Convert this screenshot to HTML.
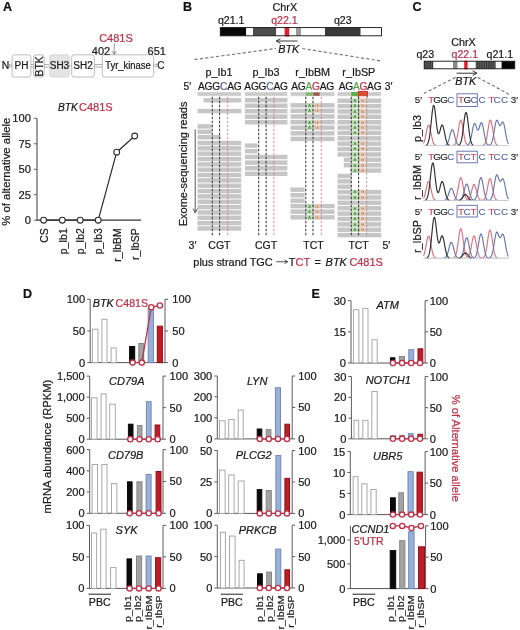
<!DOCTYPE html>
<html><head><meta charset="utf-8"><style>
html,body{margin:0;padding:0;background:#fff;}
svg{display:block;font-family:"Liberation Sans", Arial, sans-serif;}
</style></head><body>
<svg width="520" height="630" viewBox="0 0 520 630">
<rect width="520" height="630" fill="#fff"/>
<text x="3.10" y="11.25" font-size="12.5" text-anchor="start" fill="#111" stroke="#111" stroke-width="0.22" font-weight="bold">A</text>
<text x="1.70" y="69.35" font-size="10.4" text-anchor="start" fill="#1a1a1a" stroke="#1a1a1a" stroke-width="0.22">N</text>
<rect x="9.30" y="64.20" width="2.30" height="2.60" fill="#fff" stroke="#999" stroke-width="0.7" rx="0"/>
<rect x="12.10" y="54.80" width="18.80" height="22.20" fill="#fff" stroke="#ababab" stroke-width="0.8" rx="2.5"/>
<text x="21.50" y="69.46" font-size="10.0" text-anchor="middle" fill="#1a1a1a" stroke="#1a1a1a" stroke-width="0.22">PH</text>
<line x1="30.90" y1="64.50" x2="33.50" y2="64.50" stroke="#999" stroke-width="0.8"/>
<line x1="30.90" y1="67.00" x2="33.50" y2="67.00" stroke="#999" stroke-width="0.8"/>
<rect x="33.50" y="54.80" width="10.70" height="22.20" fill="#fff" stroke="#ababab" stroke-width="0.8" rx="2.5"/>
<text x="42.60" y="66.30" font-size="10.4" text-anchor="middle" fill="#1a1a1a" stroke="#1a1a1a" stroke-width="0.22" transform="rotate(-90 42.60 66.30)">BTK</text>
<line x1="44.20" y1="64.50" x2="49.60" y2="64.50" stroke="#999" stroke-width="0.8"/>
<line x1="44.20" y1="67.00" x2="49.60" y2="67.00" stroke="#999" stroke-width="0.8"/>
<rect x="49.60" y="54.80" width="19.70" height="22.20" fill="#e4e4e4" stroke="#d2d2d2" stroke-width="0.8" rx="2.5"/>
<text x="59.45" y="69.46" font-size="10.0" text-anchor="middle" fill="#1a1a1a" stroke="#1a1a1a" stroke-width="0.22">SH3</text>
<line x1="69.30" y1="65.80" x2="71.70" y2="65.80" stroke="#999" stroke-width="0.8"/>
<rect x="71.70" y="54.80" width="22.60" height="22.20" fill="#fff" stroke="#ababab" stroke-width="0.8" rx="2.5"/>
<text x="83.00" y="69.46" font-size="10.0" text-anchor="middle" fill="#1a1a1a" stroke="#1a1a1a" stroke-width="0.22">SH2</text>
<line x1="94.30" y1="64.50" x2="102.30" y2="64.50" stroke="#999" stroke-width="0.8"/>
<line x1="94.30" y1="67.00" x2="102.30" y2="67.00" stroke="#999" stroke-width="0.8"/>
<rect x="102.30" y="54.80" width="51.40" height="22.20" fill="#fff" stroke="#ababab" stroke-width="0.8" rx="2.5"/>
<text x="128.00" y="69.46" font-size="10.0" text-anchor="middle" fill="#1a1a1a" stroke="#1a1a1a" stroke-width="0.22" textLength="45.6" lengthAdjust="spacingAndGlyphs">Tyr_kinase</text>
<rect x="153.70" y="64.20" width="2.60" height="2.60" fill="#fff" stroke="#999" stroke-width="0.7" rx="0"/>
<text x="157.30" y="69.26" font-size="10" text-anchor="start" fill="#1a1a1a" stroke="#1a1a1a" stroke-width="0.22">C</text>
<text x="101.00" y="54.68" font-size="11" text-anchor="middle" fill="#1a1a1a" stroke="#1a1a1a" stroke-width="0.22">402</text>
<text x="156.80" y="54.68" font-size="11" text-anchor="middle" fill="#1a1a1a" stroke="#1a1a1a" stroke-width="0.22">651</text>
<text x="116.00" y="42.08" font-size="11" text-anchor="middle" fill="#c02f47" stroke="#c02f47" stroke-width="0.22">C481S</text>
<line x1="114.20" y1="43.50" x2="114.20" y2="54.20" stroke="#777" stroke-width="0.8"/>
<path d="M112.2 51.2 L114.2 54.6 L116.2 51.2" fill="none" stroke="#777" stroke-width="0.8"/>
<text x="58.00" y="111.30" font-size="10.2" text-anchor="start" fill="#1a1a1a" stroke="#1a1a1a" stroke-width="0.22" font-style="italic">BTK</text>
<text x="79.00" y="111.08" font-size="11" text-anchor="start" fill="#c02f47" stroke="#c02f47" stroke-width="0.22">C481S</text>
<line x1="37.00" y1="118.30" x2="37.00" y2="220.20" stroke="#5c5c5c" stroke-width="1.2"/>
<line x1="34.00" y1="220.20" x2="37.00" y2="220.20" stroke="#5c5c5c" stroke-width="1"/>
<text x="31.00" y="224.32" font-size="11.2" text-anchor="end" fill="#1a1a1a" stroke="#1a1a1a" stroke-width="0.22">0</text>
<line x1="34.00" y1="194.72" x2="37.00" y2="194.72" stroke="#5c5c5c" stroke-width="1"/>
<text x="31.00" y="198.84" font-size="11.2" text-anchor="end" fill="#1a1a1a" stroke="#1a1a1a" stroke-width="0.22">25</text>
<line x1="34.00" y1="169.25" x2="37.00" y2="169.25" stroke="#5c5c5c" stroke-width="1"/>
<text x="31.00" y="173.37" font-size="11.2" text-anchor="end" fill="#1a1a1a" stroke="#1a1a1a" stroke-width="0.22">50</text>
<line x1="34.00" y1="143.77" x2="37.00" y2="143.77" stroke="#5c5c5c" stroke-width="1"/>
<text x="31.00" y="147.89" font-size="11.2" text-anchor="end" fill="#1a1a1a" stroke="#1a1a1a" stroke-width="0.22">75</text>
<line x1="34.00" y1="118.30" x2="37.00" y2="118.30" stroke="#5c5c5c" stroke-width="1"/>
<text x="31.00" y="122.42" font-size="11.2" text-anchor="end" fill="#1a1a1a" stroke="#1a1a1a" stroke-width="0.22">100</text>
<line x1="37.00" y1="220.20" x2="141.00" y2="220.20" stroke="#333" stroke-width="1.2"/>
<polyline points="43.6,220.2 62.3,220.2 80.2,220.2 98.2,220.2 116.7,152.2 134.7,136.0" fill="none" stroke="#2e2e2e" stroke-width="1.2"/>
<circle cx="43.60" cy="220.20" r="2.9" fill="#fff" stroke="#2e2e2e" stroke-width="1.1"/>
<circle cx="62.30" cy="220.20" r="2.9" fill="#fff" stroke="#2e2e2e" stroke-width="1.1"/>
<circle cx="80.20" cy="220.20" r="2.9" fill="#fff" stroke="#2e2e2e" stroke-width="1.1"/>
<circle cx="98.20" cy="220.20" r="2.9" fill="#fff" stroke="#2e2e2e" stroke-width="1.1"/>
<circle cx="116.70" cy="152.20" r="2.9" fill="#fff" stroke="#2e2e2e" stroke-width="1.1"/>
<circle cx="134.70" cy="136.00" r="2.9" fill="#fff" stroke="#2e2e2e" stroke-width="1.1"/>
<text x="47.90" y="228.30" font-size="10.4" text-anchor="end" fill="#1a1a1a" stroke="#1a1a1a" stroke-width="0.22" transform="rotate(-90 47.90 228.30)">CS</text>
<text x="66.60" y="228.30" font-size="10.4" text-anchor="end" fill="#1a1a1a" stroke="#1a1a1a" stroke-width="0.22" transform="rotate(-90 66.60 228.30)">p_Ib1</text>
<text x="84.50" y="228.30" font-size="10.4" text-anchor="end" fill="#1a1a1a" stroke="#1a1a1a" stroke-width="0.22" transform="rotate(-90 84.50 228.30)">p_Ib2</text>
<text x="102.50" y="228.30" font-size="10.4" text-anchor="end" fill="#1a1a1a" stroke="#1a1a1a" stroke-width="0.22" transform="rotate(-90 102.50 228.30)">p_Ib3</text>
<text x="121.00" y="228.30" font-size="10.4" text-anchor="end" fill="#1a1a1a" stroke="#1a1a1a" stroke-width="0.22" transform="rotate(-90 121.00 228.30)">r_IbBM</text>
<text x="139.00" y="228.30" font-size="10.4" text-anchor="end" fill="#1a1a1a" stroke="#1a1a1a" stroke-width="0.22" transform="rotate(-90 139.00 228.30)">r_IbSP</text>
<text x="9.90" y="171.70" font-size="11.4" text-anchor="middle" fill="#1a1a1a" stroke="#1a1a1a" stroke-width="0.22" transform="rotate(-90 9.90 171.70)">% of alternative allele</text>
<text x="23.00" y="297.65" font-size="12.5" text-anchor="start" fill="#111" stroke="#111" stroke-width="0.22" font-weight="bold">D</text>
<text x="311.50" y="297.55" font-size="12.5" text-anchor="start" fill="#111" stroke="#111" stroke-width="0.22" font-weight="bold">E</text>
<line x1="90.20" y1="299.30" x2="90.20" y2="362.60" stroke="#5c5c5c" stroke-width="1"/>
<line x1="87.20" y1="299.30" x2="90.20" y2="299.30" stroke="#5c5c5c" stroke-width="1"/>
<text x="85.20" y="303.30" font-size="11.1" text-anchor="end" fill="#1a1a1a" stroke="#1a1a1a" stroke-width="0.22">100</text>
<line x1="87.20" y1="330.95" x2="90.20" y2="330.95" stroke="#5c5c5c" stroke-width="1"/>
<text x="85.20" y="334.95" font-size="11.1" text-anchor="end" fill="#1a1a1a" stroke="#1a1a1a" stroke-width="0.22">50</text>
<line x1="87.20" y1="362.60" x2="90.20" y2="362.60" stroke="#5c5c5c" stroke-width="1"/>
<text x="85.20" y="366.60" font-size="11.1" text-anchor="end" fill="#1a1a1a" stroke="#1a1a1a" stroke-width="0.22">0</text>
<line x1="165.00" y1="299.30" x2="165.00" y2="362.60" stroke="#5c5c5c" stroke-width="1"/>
<line x1="165.00" y1="299.30" x2="168.00" y2="299.30" stroke="#5c5c5c" stroke-width="1"/>
<text x="172.30" y="303.30" font-size="11.1" text-anchor="start" fill="#1a1a1a" stroke="#1a1a1a" stroke-width="0.22">100</text>
<line x1="165.00" y1="330.95" x2="168.00" y2="330.95" stroke="#5c5c5c" stroke-width="1"/>
<text x="172.30" y="334.95" font-size="11.1" text-anchor="start" fill="#1a1a1a" stroke="#1a1a1a" stroke-width="0.22">50</text>
<line x1="165.00" y1="362.60" x2="168.00" y2="362.60" stroke="#5c5c5c" stroke-width="1"/>
<text x="172.30" y="366.60" font-size="11.1" text-anchor="start" fill="#1a1a1a" stroke="#1a1a1a" stroke-width="0.22">0</text>
<line x1="90.20" y1="362.60" x2="165.00" y2="362.60" stroke="#555" stroke-width="1"/>
<rect x="92.40" y="329.20" width="5.60" height="33.40" fill="#fff" stroke="#a8a8a8" stroke-width="1" rx="0"/>
<rect x="101.90" y="319.30" width="5.10" height="43.30" fill="#fff" stroke="#a8a8a8" stroke-width="1" rx="0"/>
<rect x="111.10" y="347.90" width="5.10" height="14.70" fill="#fff" stroke="#a8a8a8" stroke-width="1" rx="0"/>
<rect x="129.60" y="346.50" width="5.10" height="16.10" fill="#0a0a0a" stroke="#0a0a0a" stroke-width="1" rx="0"/>
<rect x="138.80" y="343.50" width="4.90" height="19.10" fill="#a3a3a3" stroke="#858585" stroke-width="1" rx="0"/>
<rect x="148.20" y="308.40" width="5.20" height="54.20" fill="#98b1da" stroke="#7189b9" stroke-width="1" rx="0"/>
<rect x="157.30" y="326.20" width="5.10" height="36.40" fill="#c01b26" stroke="#8f0f18" stroke-width="1" rx="0"/>
<polyline points="132.6,362.6 141.8,362.6 151.3,307.2 159.9,305.5" fill="none" stroke="#c02f47" stroke-width="1.3"/>
<circle cx="132.60" cy="362.60" r="2.6" fill="#fff" stroke="#c02f47" stroke-width="1.35"/>
<circle cx="141.80" cy="362.60" r="2.6" fill="#fff" stroke="#c02f47" stroke-width="1.35"/>
<circle cx="151.30" cy="307.20" r="2.6" fill="#fff" stroke="#c02f47" stroke-width="1.35"/>
<circle cx="159.90" cy="305.50" r="2.6" fill="#fff" stroke="#c02f47" stroke-width="1.35"/>
<text x="92.80" y="307.33" font-size="10.8" text-anchor="start" fill="#1a1a1a" stroke="#1a1a1a" stroke-width="0.22" font-style="italic">BTK</text>
<text x="115.60" y="307.19" font-size="10.6" text-anchor="start" fill="#c02f47" stroke="#c02f47" stroke-width="0.22">C481S</text>
<line x1="89.70" y1="376.10" x2="89.70" y2="439.20" stroke="#5c5c5c" stroke-width="1"/>
<line x1="86.70" y1="376.10" x2="89.70" y2="376.10" stroke="#5c5c5c" stroke-width="1"/>
<text x="84.70" y="380.10" font-size="11.1" text-anchor="end" fill="#1a1a1a" stroke="#1a1a1a" stroke-width="0.22">1,500</text>
<line x1="86.70" y1="397.10" x2="89.70" y2="397.10" stroke="#5c5c5c" stroke-width="1"/>
<text x="84.70" y="401.10" font-size="11.1" text-anchor="end" fill="#1a1a1a" stroke="#1a1a1a" stroke-width="0.22">1,000</text>
<line x1="86.70" y1="418.20" x2="89.70" y2="418.20" stroke="#5c5c5c" stroke-width="1"/>
<text x="84.70" y="422.20" font-size="11.1" text-anchor="end" fill="#1a1a1a" stroke="#1a1a1a" stroke-width="0.22">500</text>
<line x1="86.70" y1="439.20" x2="89.70" y2="439.20" stroke="#5c5c5c" stroke-width="1"/>
<text x="84.70" y="443.20" font-size="11.1" text-anchor="end" fill="#1a1a1a" stroke="#1a1a1a" stroke-width="0.22">0</text>
<line x1="163.00" y1="376.10" x2="163.00" y2="439.20" stroke="#5c5c5c" stroke-width="1"/>
<line x1="163.00" y1="376.10" x2="166.00" y2="376.10" stroke="#5c5c5c" stroke-width="1"/>
<text x="169.60" y="380.10" font-size="11.1" text-anchor="start" fill="#1a1a1a" stroke="#1a1a1a" stroke-width="0.22">100</text>
<line x1="163.00" y1="407.65" x2="166.00" y2="407.65" stroke="#5c5c5c" stroke-width="1"/>
<text x="169.60" y="411.65" font-size="11.1" text-anchor="start" fill="#1a1a1a" stroke="#1a1a1a" stroke-width="0.22">50</text>
<line x1="163.00" y1="439.20" x2="166.00" y2="439.20" stroke="#5c5c5c" stroke-width="1"/>
<text x="169.60" y="443.20" font-size="11.1" text-anchor="start" fill="#1a1a1a" stroke="#1a1a1a" stroke-width="0.22">0</text>
<line x1="89.70" y1="439.20" x2="163.00" y2="439.20" stroke="#555" stroke-width="1"/>
<rect x="91.50" y="397.80" width="5.50" height="41.40" fill="#fff" stroke="#a8a8a8" stroke-width="1" rx="0"/>
<rect x="101.10" y="393.90" width="5.00" height="45.30" fill="#fff" stroke="#a8a8a8" stroke-width="1" rx="0"/>
<rect x="109.70" y="404.20" width="5.60" height="35.00" fill="#fff" stroke="#a8a8a8" stroke-width="1" rx="0"/>
<rect x="128.40" y="424.20" width="4.60" height="15.00" fill="#0a0a0a" stroke="#0a0a0a" stroke-width="1" rx="0"/>
<rect x="137.40" y="425.50" width="4.60" height="13.70" fill="#a3a3a3" stroke="#858585" stroke-width="1" rx="0"/>
<rect x="146.40" y="401.70" width="4.70" height="37.50" fill="#98b1da" stroke="#7189b9" stroke-width="1" rx="0"/>
<rect x="155.10" y="425.00" width="4.70" height="14.20" fill="#c01b26" stroke="#8f0f18" stroke-width="1" rx="0"/>
<polyline points="130.3,439.2 139.5,439.2 148.7,439.2 157.7,439.2" fill="none" stroke="#c02f47" stroke-width="1.3"/>
<circle cx="130.30" cy="439.20" r="2.6" fill="#fff" stroke="#c02f47" stroke-width="1.35"/>
<circle cx="139.50" cy="439.20" r="2.6" fill="#fff" stroke="#c02f47" stroke-width="1.35"/>
<circle cx="148.70" cy="439.20" r="2.6" fill="#fff" stroke="#c02f47" stroke-width="1.35"/>
<circle cx="157.70" cy="439.20" r="2.6" fill="#fff" stroke="#c02f47" stroke-width="1.35"/>
<text x="126.80" y="384.78" font-size="11" text-anchor="middle" fill="#1a1a1a" stroke="#1a1a1a" stroke-width="0.22" font-style="italic">CD79A</text>
<line x1="89.70" y1="449.60" x2="89.70" y2="513.30" stroke="#5c5c5c" stroke-width="1"/>
<line x1="86.70" y1="449.60" x2="89.70" y2="449.60" stroke="#5c5c5c" stroke-width="1"/>
<text x="84.70" y="453.60" font-size="11.1" text-anchor="end" fill="#1a1a1a" stroke="#1a1a1a" stroke-width="0.22">600</text>
<line x1="86.70" y1="470.90" x2="89.70" y2="470.90" stroke="#5c5c5c" stroke-width="1"/>
<text x="84.70" y="474.90" font-size="11.1" text-anchor="end" fill="#1a1a1a" stroke="#1a1a1a" stroke-width="0.22">400</text>
<line x1="86.70" y1="491.90" x2="89.70" y2="491.90" stroke="#5c5c5c" stroke-width="1"/>
<text x="84.70" y="495.90" font-size="11.1" text-anchor="end" fill="#1a1a1a" stroke="#1a1a1a" stroke-width="0.22">200</text>
<line x1="86.70" y1="513.30" x2="89.70" y2="513.30" stroke="#5c5c5c" stroke-width="1"/>
<text x="84.70" y="517.30" font-size="11.1" text-anchor="end" fill="#1a1a1a" stroke="#1a1a1a" stroke-width="0.22">0</text>
<line x1="163.00" y1="449.60" x2="163.00" y2="513.30" stroke="#5c5c5c" stroke-width="1"/>
<line x1="163.00" y1="449.60" x2="166.00" y2="449.60" stroke="#5c5c5c" stroke-width="1"/>
<text x="169.60" y="453.60" font-size="11.1" text-anchor="start" fill="#1a1a1a" stroke="#1a1a1a" stroke-width="0.22">100</text>
<line x1="163.00" y1="481.45" x2="166.00" y2="481.45" stroke="#5c5c5c" stroke-width="1"/>
<text x="169.60" y="485.45" font-size="11.1" text-anchor="start" fill="#1a1a1a" stroke="#1a1a1a" stroke-width="0.22">50</text>
<line x1="163.00" y1="513.30" x2="166.00" y2="513.30" stroke="#5c5c5c" stroke-width="1"/>
<text x="169.60" y="517.30" font-size="11.1" text-anchor="start" fill="#1a1a1a" stroke="#1a1a1a" stroke-width="0.22">0</text>
<line x1="89.70" y1="513.30" x2="163.00" y2="513.30" stroke="#555" stroke-width="1"/>
<rect x="92.10" y="464.50" width="5.40" height="48.80" fill="#fff" stroke="#a8a8a8" stroke-width="1" rx="0"/>
<rect x="101.90" y="464.50" width="5.10" height="48.80" fill="#fff" stroke="#a8a8a8" stroke-width="1" rx="0"/>
<rect x="111.50" y="483.60" width="5.40" height="29.70" fill="#fff" stroke="#a8a8a8" stroke-width="1" rx="0"/>
<rect x="127.50" y="481.80" width="4.60" height="31.50" fill="#0a0a0a" stroke="#0a0a0a" stroke-width="1" rx="0"/>
<rect x="136.90" y="481.80" width="5.10" height="31.50" fill="#a3a3a3" stroke="#858585" stroke-width="1" rx="0"/>
<rect x="146.10" y="474.50" width="5.00" height="38.80" fill="#98b1da" stroke="#7189b9" stroke-width="1" rx="0"/>
<rect x="156.10" y="471.50" width="4.90" height="41.80" fill="#c01b26" stroke="#8f0f18" stroke-width="1" rx="0"/>
<polyline points="129.7,513.3 139.0,513.3 148.7,513.3 158.6,513.3" fill="none" stroke="#c02f47" stroke-width="1.3"/>
<circle cx="129.70" cy="513.30" r="2.6" fill="#fff" stroke="#c02f47" stroke-width="1.35"/>
<circle cx="139.00" cy="513.30" r="2.6" fill="#fff" stroke="#c02f47" stroke-width="1.35"/>
<circle cx="148.70" cy="513.30" r="2.6" fill="#fff" stroke="#c02f47" stroke-width="1.35"/>
<circle cx="158.60" cy="513.30" r="2.6" fill="#fff" stroke="#c02f47" stroke-width="1.35"/>
<text x="125.70" y="459.48" font-size="11" text-anchor="middle" fill="#1a1a1a" stroke="#1a1a1a" stroke-width="0.22" font-style="italic">CD79B</text>
<line x1="89.50" y1="525.40" x2="89.50" y2="588.40" stroke="#5c5c5c" stroke-width="1"/>
<line x1="86.50" y1="525.40" x2="89.50" y2="525.40" stroke="#5c5c5c" stroke-width="1"/>
<text x="84.50" y="529.40" font-size="11.1" text-anchor="end" fill="#1a1a1a" stroke="#1a1a1a" stroke-width="0.22">100</text>
<line x1="86.50" y1="556.90" x2="89.50" y2="556.90" stroke="#5c5c5c" stroke-width="1"/>
<text x="84.50" y="560.90" font-size="11.1" text-anchor="end" fill="#1a1a1a" stroke="#1a1a1a" stroke-width="0.22">50</text>
<line x1="86.50" y1="588.40" x2="89.50" y2="588.40" stroke="#5c5c5c" stroke-width="1"/>
<text x="84.50" y="592.40" font-size="11.1" text-anchor="end" fill="#1a1a1a" stroke="#1a1a1a" stroke-width="0.22">0</text>
<line x1="163.00" y1="525.40" x2="163.00" y2="588.40" stroke="#5c5c5c" stroke-width="1"/>
<line x1="163.00" y1="525.40" x2="166.00" y2="525.40" stroke="#5c5c5c" stroke-width="1"/>
<text x="169.60" y="529.40" font-size="11.1" text-anchor="start" fill="#1a1a1a" stroke="#1a1a1a" stroke-width="0.22">100</text>
<line x1="163.00" y1="556.90" x2="166.00" y2="556.90" stroke="#5c5c5c" stroke-width="1"/>
<text x="169.60" y="560.90" font-size="11.1" text-anchor="start" fill="#1a1a1a" stroke="#1a1a1a" stroke-width="0.22">50</text>
<line x1="163.00" y1="588.40" x2="166.00" y2="588.40" stroke="#5c5c5c" stroke-width="1"/>
<text x="169.60" y="592.40" font-size="11.1" text-anchor="start" fill="#1a1a1a" stroke="#1a1a1a" stroke-width="0.22">0</text>
<line x1="89.50" y1="588.40" x2="163.00" y2="588.40" stroke="#555" stroke-width="1"/>
<rect x="91.50" y="533.00" width="5.10" height="55.40" fill="#fff" stroke="#a8a8a8" stroke-width="1" rx="0"/>
<rect x="100.70" y="529.20" width="5.40" height="59.20" fill="#fff" stroke="#a8a8a8" stroke-width="1" rx="0"/>
<rect x="110.60" y="567.60" width="5.40" height="20.80" fill="#fff" stroke="#a8a8a8" stroke-width="1" rx="0"/>
<rect x="127.00" y="558.90" width="4.60" height="29.50" fill="#0a0a0a" stroke="#0a0a0a" stroke-width="1" rx="0"/>
<rect x="136.50" y="556.00" width="5.10" height="32.40" fill="#a3a3a3" stroke="#858585" stroke-width="1" rx="0"/>
<rect x="146.10" y="556.00" width="5.00" height="32.40" fill="#98b1da" stroke="#7189b9" stroke-width="1" rx="0"/>
<rect x="155.60" y="557.70" width="5.10" height="30.70" fill="#c01b26" stroke="#8f0f18" stroke-width="1" rx="0"/>
<polyline points="129.7,588.4 139.0,588.4 148.7,588.4 158.6,588.4" fill="none" stroke="#c02f47" stroke-width="1.3"/>
<circle cx="129.70" cy="588.40" r="2.6" fill="#fff" stroke="#c02f47" stroke-width="1.35"/>
<circle cx="139.00" cy="588.40" r="2.6" fill="#fff" stroke="#c02f47" stroke-width="1.35"/>
<circle cx="148.70" cy="588.40" r="2.6" fill="#fff" stroke="#c02f47" stroke-width="1.35"/>
<circle cx="158.60" cy="588.40" r="2.6" fill="#fff" stroke="#c02f47" stroke-width="1.35"/>
<text x="126.60" y="534.48" font-size="11" text-anchor="middle" fill="#1a1a1a" stroke="#1a1a1a" stroke-width="0.22" font-style="italic">SYK</text>
<line x1="217.30" y1="376.00" x2="217.30" y2="438.90" stroke="#5c5c5c" stroke-width="1"/>
<line x1="214.30" y1="376.00" x2="217.30" y2="376.00" stroke="#5c5c5c" stroke-width="1"/>
<text x="212.30" y="380.00" font-size="11.1" text-anchor="end" fill="#1a1a1a" stroke="#1a1a1a" stroke-width="0.22">300</text>
<line x1="214.30" y1="396.80" x2="217.30" y2="396.80" stroke="#5c5c5c" stroke-width="1"/>
<text x="212.30" y="400.80" font-size="11.1" text-anchor="end" fill="#1a1a1a" stroke="#1a1a1a" stroke-width="0.22">200</text>
<line x1="214.30" y1="417.80" x2="217.30" y2="417.80" stroke="#5c5c5c" stroke-width="1"/>
<text x="212.30" y="421.80" font-size="11.1" text-anchor="end" fill="#1a1a1a" stroke="#1a1a1a" stroke-width="0.22">100</text>
<line x1="214.30" y1="438.90" x2="217.30" y2="438.90" stroke="#5c5c5c" stroke-width="1"/>
<text x="212.30" y="442.90" font-size="11.1" text-anchor="end" fill="#1a1a1a" stroke="#1a1a1a" stroke-width="0.22">0</text>
<line x1="292.20" y1="376.00" x2="292.20" y2="438.90" stroke="#5c5c5c" stroke-width="1"/>
<line x1="292.20" y1="376.00" x2="295.20" y2="376.00" stroke="#5c5c5c" stroke-width="1"/>
<text x="298.20" y="380.00" font-size="11.1" text-anchor="start" fill="#1a1a1a" stroke="#1a1a1a" stroke-width="0.22">100</text>
<line x1="292.20" y1="407.45" x2="295.20" y2="407.45" stroke="#5c5c5c" stroke-width="1"/>
<text x="298.20" y="411.45" font-size="11.1" text-anchor="start" fill="#1a1a1a" stroke="#1a1a1a" stroke-width="0.22">50</text>
<line x1="292.20" y1="438.90" x2="295.20" y2="438.90" stroke="#5c5c5c" stroke-width="1"/>
<text x="298.20" y="442.90" font-size="11.1" text-anchor="start" fill="#1a1a1a" stroke="#1a1a1a" stroke-width="0.22">0</text>
<line x1="217.30" y1="438.90" x2="292.20" y2="438.90" stroke="#555" stroke-width="1"/>
<rect x="219.50" y="420.70" width="5.60" height="18.20" fill="#fff" stroke="#a8a8a8" stroke-width="1" rx="0"/>
<rect x="228.70" y="419.50" width="5.40" height="19.40" fill="#fff" stroke="#a8a8a8" stroke-width="1" rx="0"/>
<rect x="238.20" y="410.00" width="5.00" height="28.90" fill="#fff" stroke="#a8a8a8" stroke-width="1" rx="0"/>
<rect x="257.20" y="429.00" width="4.60" height="9.90" fill="#0a0a0a" stroke="#0a0a0a" stroke-width="1" rx="0"/>
<rect x="266.20" y="429.70" width="4.70" height="9.20" fill="#a3a3a3" stroke="#858585" stroke-width="1" rx="0"/>
<rect x="275.40" y="387.80" width="5.10" height="51.10" fill="#98b1da" stroke="#7189b9" stroke-width="1" rx="0"/>
<rect x="284.90" y="424.20" width="4.60" height="14.70" fill="#c01b26" stroke="#8f0f18" stroke-width="1" rx="0"/>
<polyline points="259.8,438.9 268.8,438.9 278.0,438.9 287.0,438.9" fill="none" stroke="#c02f47" stroke-width="1.3"/>
<circle cx="259.80" cy="438.90" r="2.6" fill="#fff" stroke="#c02f47" stroke-width="1.35"/>
<circle cx="268.80" cy="438.90" r="2.6" fill="#fff" stroke="#c02f47" stroke-width="1.35"/>
<circle cx="278.00" cy="438.90" r="2.6" fill="#fff" stroke="#c02f47" stroke-width="1.35"/>
<circle cx="287.00" cy="438.90" r="2.6" fill="#fff" stroke="#c02f47" stroke-width="1.35"/>
<text x="257.20" y="384.78" font-size="11" text-anchor="middle" fill="#1a1a1a" stroke="#1a1a1a" stroke-width="0.22" font-style="italic">LYN</text>
<line x1="217.30" y1="450.50" x2="217.30" y2="513.40" stroke="#5c5c5c" stroke-width="1"/>
<line x1="214.30" y1="450.50" x2="217.30" y2="450.50" stroke="#5c5c5c" stroke-width="1"/>
<text x="212.30" y="454.50" font-size="11.1" text-anchor="end" fill="#1a1a1a" stroke="#1a1a1a" stroke-width="0.22">50</text>
<line x1="214.30" y1="481.95" x2="217.30" y2="481.95" stroke="#5c5c5c" stroke-width="1"/>
<text x="212.30" y="485.95" font-size="11.1" text-anchor="end" fill="#1a1a1a" stroke="#1a1a1a" stroke-width="0.22">25</text>
<line x1="214.30" y1="513.40" x2="217.30" y2="513.40" stroke="#5c5c5c" stroke-width="1"/>
<text x="212.30" y="517.40" font-size="11.1" text-anchor="end" fill="#1a1a1a" stroke="#1a1a1a" stroke-width="0.22">0</text>
<line x1="292.20" y1="450.50" x2="292.20" y2="513.40" stroke="#5c5c5c" stroke-width="1"/>
<line x1="292.20" y1="450.50" x2="295.20" y2="450.50" stroke="#5c5c5c" stroke-width="1"/>
<text x="298.20" y="454.50" font-size="11.1" text-anchor="start" fill="#1a1a1a" stroke="#1a1a1a" stroke-width="0.22">100</text>
<line x1="292.20" y1="481.95" x2="295.20" y2="481.95" stroke="#5c5c5c" stroke-width="1"/>
<text x="298.20" y="485.95" font-size="11.1" text-anchor="start" fill="#1a1a1a" stroke="#1a1a1a" stroke-width="0.22">50</text>
<line x1="292.20" y1="513.40" x2="295.20" y2="513.40" stroke="#5c5c5c" stroke-width="1"/>
<text x="298.20" y="517.40" font-size="11.1" text-anchor="start" fill="#1a1a1a" stroke="#1a1a1a" stroke-width="0.22">0</text>
<line x1="217.30" y1="513.40" x2="292.20" y2="513.40" stroke="#555" stroke-width="1"/>
<rect x="219.50" y="470.10" width="5.60" height="43.30" fill="#fff" stroke="#a8a8a8" stroke-width="1" rx="0"/>
<rect x="228.70" y="474.90" width="5.40" height="38.50" fill="#fff" stroke="#a8a8a8" stroke-width="1" rx="0"/>
<rect x="238.20" y="481.00" width="5.90" height="32.40" fill="#fff" stroke="#a8a8a8" stroke-width="1" rx="0"/>
<rect x="257.20" y="489.60" width="4.60" height="23.80" fill="#0a0a0a" stroke="#0a0a0a" stroke-width="1" rx="0"/>
<rect x="266.20" y="490.50" width="5.10" height="22.90" fill="#a3a3a3" stroke="#858585" stroke-width="1" rx="0"/>
<rect x="275.90" y="455.50" width="4.90" height="57.90" fill="#98b1da" stroke="#7189b9" stroke-width="1" rx="0"/>
<rect x="284.90" y="478.40" width="4.60" height="35.00" fill="#c01b26" stroke="#8f0f18" stroke-width="1" rx="0"/>
<polyline points="259.8,513.4 268.8,513.4 278.0,513.4 287.0,513.4" fill="none" stroke="#c02f47" stroke-width="1.3"/>
<circle cx="259.80" cy="513.40" r="2.6" fill="#fff" stroke="#c02f47" stroke-width="1.35"/>
<circle cx="268.80" cy="513.40" r="2.6" fill="#fff" stroke="#c02f47" stroke-width="1.35"/>
<circle cx="278.00" cy="513.40" r="2.6" fill="#fff" stroke="#c02f47" stroke-width="1.35"/>
<circle cx="287.00" cy="513.40" r="2.6" fill="#fff" stroke="#c02f47" stroke-width="1.35"/>
<text x="253.70" y="458.88" font-size="11" text-anchor="middle" fill="#1a1a1a" stroke="#1a1a1a" stroke-width="0.22" font-style="italic">PLCG2</text>
<line x1="217.30" y1="525.20" x2="217.30" y2="588.00" stroke="#5c5c5c" stroke-width="1"/>
<line x1="214.30" y1="525.20" x2="217.30" y2="525.20" stroke="#5c5c5c" stroke-width="1"/>
<text x="212.30" y="529.20" font-size="11.1" text-anchor="end" fill="#1a1a1a" stroke="#1a1a1a" stroke-width="0.22">100</text>
<line x1="214.30" y1="556.60" x2="217.30" y2="556.60" stroke="#5c5c5c" stroke-width="1"/>
<text x="212.30" y="560.60" font-size="11.1" text-anchor="end" fill="#1a1a1a" stroke="#1a1a1a" stroke-width="0.22">50</text>
<line x1="214.30" y1="588.00" x2="217.30" y2="588.00" stroke="#5c5c5c" stroke-width="1"/>
<text x="212.30" y="592.00" font-size="11.1" text-anchor="end" fill="#1a1a1a" stroke="#1a1a1a" stroke-width="0.22">0</text>
<line x1="292.20" y1="525.20" x2="292.20" y2="588.00" stroke="#5c5c5c" stroke-width="1"/>
<line x1="292.20" y1="525.20" x2="295.20" y2="525.20" stroke="#5c5c5c" stroke-width="1"/>
<text x="298.20" y="529.20" font-size="11.1" text-anchor="start" fill="#1a1a1a" stroke="#1a1a1a" stroke-width="0.22">100</text>
<line x1="292.20" y1="556.60" x2="295.20" y2="556.60" stroke="#5c5c5c" stroke-width="1"/>
<text x="298.20" y="560.60" font-size="11.1" text-anchor="start" fill="#1a1a1a" stroke="#1a1a1a" stroke-width="0.22">50</text>
<line x1="292.20" y1="588.00" x2="295.20" y2="588.00" stroke="#5c5c5c" stroke-width="1"/>
<text x="298.20" y="592.00" font-size="11.1" text-anchor="start" fill="#1a1a1a" stroke="#1a1a1a" stroke-width="0.22">0</text>
<line x1="217.30" y1="588.00" x2="292.20" y2="588.00" stroke="#555" stroke-width="1"/>
<rect x="220.50" y="532.30" width="4.90" height="55.70" fill="#fff" stroke="#a8a8a8" stroke-width="1" rx="0"/>
<rect x="229.50" y="536.10" width="5.60" height="51.90" fill="#fff" stroke="#a8a8a8" stroke-width="1" rx="0"/>
<rect x="239.10" y="560.30" width="5.00" height="27.70" fill="#fff" stroke="#a8a8a8" stroke-width="1" rx="0"/>
<rect x="257.50" y="573.80" width="4.80" height="14.20" fill="#0a0a0a" stroke="#0a0a0a" stroke-width="1" rx="0"/>
<rect x="266.70" y="572.10" width="4.80" height="15.90" fill="#a3a3a3" stroke="#858585" stroke-width="1" rx="0"/>
<rect x="275.70" y="549.10" width="5.10" height="38.90" fill="#98b1da" stroke="#7189b9" stroke-width="1" rx="0"/>
<rect x="284.90" y="569.80" width="4.60" height="18.20" fill="#c01b26" stroke="#8f0f18" stroke-width="1" rx="0"/>
<polyline points="259.8,588.0 268.8,588.0 278.0,588.0 287.0,588.0" fill="none" stroke="#c02f47" stroke-width="1.3"/>
<circle cx="259.80" cy="588.00" r="2.6" fill="#fff" stroke="#c02f47" stroke-width="1.35"/>
<circle cx="268.80" cy="588.00" r="2.6" fill="#fff" stroke="#c02f47" stroke-width="1.35"/>
<circle cx="278.00" cy="588.00" r="2.6" fill="#fff" stroke="#c02f47" stroke-width="1.35"/>
<circle cx="287.00" cy="588.00" r="2.6" fill="#fff" stroke="#c02f47" stroke-width="1.35"/>
<text x="257.60" y="534.48" font-size="11" text-anchor="middle" fill="#1a1a1a" stroke="#1a1a1a" stroke-width="0.22" font-style="italic">PRKCB</text>
<line x1="351.00" y1="300.60" x2="351.00" y2="363.00" stroke="#5c5c5c" stroke-width="1"/>
<line x1="348.00" y1="300.60" x2="351.00" y2="300.60" stroke="#5c5c5c" stroke-width="1"/>
<text x="346.00" y="304.60" font-size="11.1" text-anchor="end" fill="#1a1a1a" stroke="#1a1a1a" stroke-width="0.22">30</text>
<line x1="348.00" y1="331.80" x2="351.00" y2="331.80" stroke="#5c5c5c" stroke-width="1"/>
<text x="346.00" y="335.80" font-size="11.1" text-anchor="end" fill="#1a1a1a" stroke="#1a1a1a" stroke-width="0.22">15</text>
<line x1="348.00" y1="363.00" x2="351.00" y2="363.00" stroke="#5c5c5c" stroke-width="1"/>
<text x="346.00" y="367.00" font-size="11.1" text-anchor="end" fill="#1a1a1a" stroke="#1a1a1a" stroke-width="0.22">0</text>
<line x1="425.10" y1="300.60" x2="425.10" y2="363.00" stroke="#5c5c5c" stroke-width="1"/>
<line x1="425.10" y1="300.60" x2="428.10" y2="300.60" stroke="#5c5c5c" stroke-width="1"/>
<text x="429.70" y="304.60" font-size="11.1" text-anchor="start" fill="#1a1a1a" stroke="#1a1a1a" stroke-width="0.22">100</text>
<line x1="425.10" y1="331.80" x2="428.10" y2="331.80" stroke="#5c5c5c" stroke-width="1"/>
<text x="429.70" y="335.80" font-size="11.1" text-anchor="start" fill="#1a1a1a" stroke="#1a1a1a" stroke-width="0.22">50</text>
<line x1="425.10" y1="363.00" x2="428.10" y2="363.00" stroke="#5c5c5c" stroke-width="1"/>
<text x="429.70" y="367.00" font-size="11.1" text-anchor="start" fill="#1a1a1a" stroke="#1a1a1a" stroke-width="0.22">0</text>
<line x1="351.00" y1="363.00" x2="425.10" y2="363.00" stroke="#555" stroke-width="1"/>
<rect x="353.50" y="309.70" width="5.40" height="53.30" fill="#fff" stroke="#a8a8a8" stroke-width="1" rx="0"/>
<rect x="362.80" y="308.40" width="5.20" height="54.60" fill="#fff" stroke="#a8a8a8" stroke-width="1" rx="0"/>
<rect x="372.00" y="339.70" width="5.20" height="23.30" fill="#fff" stroke="#a8a8a8" stroke-width="1" rx="0"/>
<rect x="390.50" y="357.80" width="4.40" height="5.20" fill="#0a0a0a" stroke="#0a0a0a" stroke-width="1" rx="0"/>
<rect x="399.30" y="356.50" width="5.20" height="6.50" fill="#a3a3a3" stroke="#858585" stroke-width="1" rx="0"/>
<rect x="408.80" y="349.70" width="4.90" height="13.30" fill="#98b1da" stroke="#7189b9" stroke-width="1" rx="0"/>
<rect x="418.00" y="348.80" width="4.80" height="14.20" fill="#c01b26" stroke="#8f0f18" stroke-width="1" rx="0"/>
<polyline points="392.9,363.0 402.1,363.0 411.2,363.0 420.0,363.0" fill="none" stroke="#c02f47" stroke-width="1.3"/>
<circle cx="392.90" cy="363.00" r="2.6" fill="#fff" stroke="#c02f47" stroke-width="1.35"/>
<circle cx="402.10" cy="363.00" r="2.6" fill="#fff" stroke="#c02f47" stroke-width="1.35"/>
<circle cx="411.20" cy="363.00" r="2.6" fill="#fff" stroke="#c02f47" stroke-width="1.35"/>
<circle cx="420.00" cy="363.00" r="2.6" fill="#fff" stroke="#c02f47" stroke-width="1.35"/>
<text x="387.70" y="309.38" font-size="11" text-anchor="middle" fill="#1a1a1a" stroke="#1a1a1a" stroke-width="0.22" font-style="italic">ATM</text>
<line x1="351.40" y1="376.50" x2="351.40" y2="438.80" stroke="#5c5c5c" stroke-width="1"/>
<line x1="348.40" y1="376.50" x2="351.40" y2="376.50" stroke="#5c5c5c" stroke-width="1"/>
<text x="346.40" y="380.50" font-size="11.1" text-anchor="end" fill="#1a1a1a" stroke="#1a1a1a" stroke-width="0.22">30</text>
<line x1="348.40" y1="397.30" x2="351.40" y2="397.30" stroke="#5c5c5c" stroke-width="1"/>
<text x="346.40" y="401.30" font-size="11.1" text-anchor="end" fill="#1a1a1a" stroke="#1a1a1a" stroke-width="0.22">20</text>
<line x1="348.40" y1="418.10" x2="351.40" y2="418.10" stroke="#5c5c5c" stroke-width="1"/>
<text x="346.40" y="422.10" font-size="11.1" text-anchor="end" fill="#1a1a1a" stroke="#1a1a1a" stroke-width="0.22">10</text>
<line x1="348.40" y1="438.80" x2="351.40" y2="438.80" stroke="#5c5c5c" stroke-width="1"/>
<text x="346.40" y="442.80" font-size="11.1" text-anchor="end" fill="#1a1a1a" stroke="#1a1a1a" stroke-width="0.22">0</text>
<line x1="425.10" y1="376.50" x2="425.10" y2="438.80" stroke="#5c5c5c" stroke-width="1"/>
<line x1="425.10" y1="376.50" x2="428.10" y2="376.50" stroke="#5c5c5c" stroke-width="1"/>
<text x="429.70" y="380.50" font-size="11.1" text-anchor="start" fill="#1a1a1a" stroke="#1a1a1a" stroke-width="0.22">100</text>
<line x1="425.10" y1="407.65" x2="428.10" y2="407.65" stroke="#5c5c5c" stroke-width="1"/>
<text x="429.70" y="411.65" font-size="11.1" text-anchor="start" fill="#1a1a1a" stroke="#1a1a1a" stroke-width="0.22">50</text>
<line x1="425.10" y1="438.80" x2="428.10" y2="438.80" stroke="#5c5c5c" stroke-width="1"/>
<text x="429.70" y="442.80" font-size="11.1" text-anchor="start" fill="#1a1a1a" stroke="#1a1a1a" stroke-width="0.22">0</text>
<line x1="351.40" y1="438.80" x2="425.10" y2="438.80" stroke="#555" stroke-width="1"/>
<rect x="354.00" y="420.30" width="4.70" height="18.50" fill="#fff" stroke="#a8a8a8" stroke-width="1" rx="0"/>
<rect x="362.80" y="420.30" width="5.20" height="18.50" fill="#fff" stroke="#a8a8a8" stroke-width="1" rx="0"/>
<rect x="371.80" y="391.50" width="5.40" height="47.30" fill="#fff" stroke="#a8a8a8" stroke-width="1" rx="0"/>
<rect x="390.70" y="436.10" width="4.60" height="2.70" fill="#0a0a0a" stroke="#0a0a0a" stroke-width="1" rx="0"/>
<rect x="399.80" y="435.30" width="4.30" height="3.50" fill="#a3a3a3" stroke="#858585" stroke-width="1" rx="0"/>
<rect x="408.40" y="433.70" width="4.70" height="5.10" fill="#98b1da" stroke="#7189b9" stroke-width="1" rx="0"/>
<rect x="417.90" y="434.30" width="4.70" height="4.50" fill="#c01b26" stroke="#8f0f18" stroke-width="1" rx="0"/>
<polyline points="392.9,438.8 402.1,438.8 411.2,438.8 420.0,438.8" fill="none" stroke="#c02f47" stroke-width="1.3"/>
<circle cx="392.90" cy="438.80" r="2.6" fill="#fff" stroke="#c02f47" stroke-width="1.35"/>
<circle cx="402.10" cy="438.80" r="2.6" fill="#fff" stroke="#c02f47" stroke-width="1.35"/>
<circle cx="411.20" cy="438.80" r="2.6" fill="#fff" stroke="#c02f47" stroke-width="1.35"/>
<circle cx="420.00" cy="438.80" r="2.6" fill="#fff" stroke="#c02f47" stroke-width="1.35"/>
<text x="388.30" y="384.38" font-size="11" text-anchor="middle" fill="#1a1a1a" stroke="#1a1a1a" stroke-width="0.22" font-style="italic">NOTCH1</text>
<line x1="350.30" y1="451.60" x2="350.30" y2="514.60" stroke="#5c5c5c" stroke-width="1"/>
<line x1="347.30" y1="451.60" x2="350.30" y2="451.60" stroke="#5c5c5c" stroke-width="1"/>
<text x="345.30" y="455.60" font-size="11.1" text-anchor="end" fill="#1a1a1a" stroke="#1a1a1a" stroke-width="0.22">15</text>
<line x1="347.30" y1="472.50" x2="350.30" y2="472.50" stroke="#5c5c5c" stroke-width="1"/>
<text x="345.30" y="476.50" font-size="11.1" text-anchor="end" fill="#1a1a1a" stroke="#1a1a1a" stroke-width="0.22">10</text>
<line x1="347.30" y1="493.50" x2="350.30" y2="493.50" stroke="#5c5c5c" stroke-width="1"/>
<text x="345.30" y="497.50" font-size="11.1" text-anchor="end" fill="#1a1a1a" stroke="#1a1a1a" stroke-width="0.22">5</text>
<line x1="347.30" y1="514.60" x2="350.30" y2="514.60" stroke="#5c5c5c" stroke-width="1"/>
<text x="345.30" y="518.60" font-size="11.1" text-anchor="end" fill="#1a1a1a" stroke="#1a1a1a" stroke-width="0.22">0</text>
<line x1="425.10" y1="451.60" x2="425.10" y2="514.60" stroke="#5c5c5c" stroke-width="1"/>
<line x1="425.10" y1="451.60" x2="428.10" y2="451.60" stroke="#5c5c5c" stroke-width="1"/>
<text x="429.70" y="455.60" font-size="11.1" text-anchor="start" fill="#1a1a1a" stroke="#1a1a1a" stroke-width="0.22">100</text>
<line x1="425.10" y1="483.10" x2="428.10" y2="483.10" stroke="#5c5c5c" stroke-width="1"/>
<text x="429.70" y="487.10" font-size="11.1" text-anchor="start" fill="#1a1a1a" stroke="#1a1a1a" stroke-width="0.22">50</text>
<line x1="425.10" y1="514.60" x2="428.10" y2="514.60" stroke="#5c5c5c" stroke-width="1"/>
<text x="429.70" y="518.60" font-size="11.1" text-anchor="start" fill="#1a1a1a" stroke="#1a1a1a" stroke-width="0.22">0</text>
<line x1="350.30" y1="514.60" x2="425.10" y2="514.60" stroke="#555" stroke-width="1"/>
<rect x="353.20" y="476.70" width="4.80" height="37.90" fill="#fff" stroke="#a8a8a8" stroke-width="1" rx="0"/>
<rect x="361.80" y="483.80" width="5.20" height="30.80" fill="#fff" stroke="#a8a8a8" stroke-width="1" rx="0"/>
<rect x="370.90" y="489.50" width="5.30" height="25.10" fill="#fff" stroke="#a8a8a8" stroke-width="1" rx="0"/>
<rect x="390.50" y="497.80" width="4.80" height="16.80" fill="#0a0a0a" stroke="#0a0a0a" stroke-width="1" rx="0"/>
<rect x="398.80" y="492.80" width="4.70" height="21.80" fill="#a3a3a3" stroke="#858585" stroke-width="1" rx="0"/>
<rect x="408.00" y="471.70" width="5.20" height="42.90" fill="#98b1da" stroke="#7189b9" stroke-width="1" rx="0"/>
<rect x="417.00" y="472.20" width="5.40" height="42.40" fill="#c01b26" stroke="#8f0f18" stroke-width="1" rx="0"/>
<polyline points="392.9,514.6 402.1,514.6 411.2,514.6 420.0,514.6" fill="none" stroke="#c02f47" stroke-width="1.3"/>
<circle cx="392.90" cy="514.60" r="2.6" fill="#fff" stroke="#c02f47" stroke-width="1.35"/>
<circle cx="402.10" cy="514.60" r="2.6" fill="#fff" stroke="#c02f47" stroke-width="1.35"/>
<circle cx="411.20" cy="514.60" r="2.6" fill="#fff" stroke="#c02f47" stroke-width="1.35"/>
<circle cx="420.00" cy="514.60" r="2.6" fill="#fff" stroke="#c02f47" stroke-width="1.35"/>
<text x="387.70" y="460.38" font-size="11" text-anchor="middle" fill="#1a1a1a" stroke="#1a1a1a" stroke-width="0.22" font-style="italic">UBR5</text>
<line x1="350.40" y1="525.80" x2="350.40" y2="588.60" stroke="#5c5c5c" stroke-width="1"/>
<line x1="347.40" y1="540.00" x2="350.40" y2="540.00" stroke="#5c5c5c" stroke-width="1"/>
<text x="345.40" y="544.00" font-size="11.1" text-anchor="end" fill="#1a1a1a" stroke="#1a1a1a" stroke-width="0.22">1,000</text>
<line x1="347.40" y1="563.90" x2="350.40" y2="563.90" stroke="#5c5c5c" stroke-width="1"/>
<text x="345.40" y="567.90" font-size="11.1" text-anchor="end" fill="#1a1a1a" stroke="#1a1a1a" stroke-width="0.22">500</text>
<line x1="347.40" y1="588.60" x2="350.40" y2="588.60" stroke="#5c5c5c" stroke-width="1"/>
<text x="345.40" y="592.60" font-size="11.1" text-anchor="end" fill="#1a1a1a" stroke="#1a1a1a" stroke-width="0.22">0</text>
<line x1="425.60" y1="525.80" x2="425.60" y2="588.60" stroke="#5c5c5c" stroke-width="1"/>
<line x1="425.60" y1="525.80" x2="428.60" y2="525.80" stroke="#5c5c5c" stroke-width="1"/>
<text x="430.20" y="529.80" font-size="11.1" text-anchor="start" fill="#1a1a1a" stroke="#1a1a1a" stroke-width="0.22">100</text>
<line x1="425.60" y1="557.20" x2="428.60" y2="557.20" stroke="#5c5c5c" stroke-width="1"/>
<text x="430.20" y="561.20" font-size="11.1" text-anchor="start" fill="#1a1a1a" stroke="#1a1a1a" stroke-width="0.22">50</text>
<line x1="425.60" y1="588.60" x2="428.60" y2="588.60" stroke="#5c5c5c" stroke-width="1"/>
<text x="430.20" y="592.60" font-size="11.1" text-anchor="start" fill="#1a1a1a" stroke="#1a1a1a" stroke-width="0.22">0</text>
<line x1="350.40" y1="588.60" x2="425.60" y2="588.60" stroke="#555" stroke-width="1"/>
<rect x="390.20" y="550.60" width="5.50" height="38.00" fill="#0a0a0a" stroke="#0a0a0a" stroke-width="1" rx="0"/>
<rect x="399.70" y="540.70" width="5.20" height="47.90" fill="#a3a3a3" stroke="#858585" stroke-width="1" rx="0"/>
<rect x="408.70" y="531.70" width="5.40" height="56.90" fill="#98b1da" stroke="#7189b9" stroke-width="1" rx="0"/>
<rect x="418.60" y="546.80" width="5.90" height="41.80" fill="#c01b26" stroke="#8f0f18" stroke-width="1" rx="0"/>
<polyline points="392.8,525.9 402.2,525.9 411.5,528.0 421.0,525.9" fill="none" stroke="#c02f47" stroke-width="1.3"/>
<circle cx="392.80" cy="525.90" r="2.6" fill="#fff" stroke="#c02f47" stroke-width="1.35"/>
<circle cx="402.20" cy="525.90" r="2.6" fill="#fff" stroke="#c02f47" stroke-width="1.35"/>
<circle cx="411.50" cy="528.00" r="2.6" fill="#fff" stroke="#c02f47" stroke-width="1.35"/>
<circle cx="421.00" cy="525.90" r="2.6" fill="#fff" stroke="#c02f47" stroke-width="1.35"/>
<text x="351.60" y="532.68" font-size="11" text-anchor="start" fill="#1a1a1a" stroke="#1a1a1a" stroke-width="0.22" font-style="italic">CCND1</text>
<text x="354.00" y="545.39" font-size="10.6" text-anchor="start" fill="#c02f47" stroke="#c02f47" stroke-width="0.22">5′UTR</text>
<line x1="88.50" y1="594.20" x2="111.00" y2="594.20" stroke="#222" stroke-width="1"/>
<text x="99.75" y="606.29" font-size="10.6" text-anchor="middle" fill="#1a1a1a" stroke="#1a1a1a" stroke-width="0.22">PBC</text>
<line x1="220.70" y1="594.20" x2="242.90" y2="594.20" stroke="#222" stroke-width="1"/>
<text x="231.80" y="606.29" font-size="10.6" text-anchor="middle" fill="#1a1a1a" stroke="#1a1a1a" stroke-width="0.22">PBC</text>
<line x1="352.40" y1="594.20" x2="375.20" y2="594.20" stroke="#222" stroke-width="1"/>
<text x="363.80" y="606.29" font-size="10.6" text-anchor="middle" fill="#1a1a1a" stroke="#1a1a1a" stroke-width="0.22">PBC</text>
<text transform="translate(130.81 595.4) rotate(-90) scale(1 0.86)" font-size="10.6" text-anchor="end" fill="#1a1a1a" stroke="#1a1a1a" stroke-width="0.22">p_Ib1</text>
<text transform="translate(141.31 595.4) rotate(-90) scale(1 0.86)" font-size="10.6" text-anchor="end" fill="#1a1a1a" stroke="#1a1a1a" stroke-width="0.22">p_Ib2</text>
<text transform="translate(151.53 595.4) rotate(-90) scale(1 0.86)" font-size="10.6" text-anchor="end" fill="#1a1a1a" stroke="#1a1a1a" stroke-width="0.22">r_IbBM</text>
<text transform="translate(162.13 595.4) rotate(-90) scale(1 0.86)" font-size="10.6" text-anchor="end" fill="#1a1a1a" stroke="#1a1a1a" stroke-width="0.22">r_IbSP</text>
<text transform="translate(262.51 595.4) rotate(-90) scale(1 0.86)" font-size="10.6" text-anchor="end" fill="#1a1a1a" stroke="#1a1a1a" stroke-width="0.22">p_Ib1</text>
<text transform="translate(273.31 595.4) rotate(-90) scale(1 0.86)" font-size="10.6" text-anchor="end" fill="#1a1a1a" stroke="#1a1a1a" stroke-width="0.22">p_Ib2</text>
<text transform="translate(283.93 595.4) rotate(-90) scale(1 0.86)" font-size="10.6" text-anchor="end" fill="#1a1a1a" stroke="#1a1a1a" stroke-width="0.22">r_IbBM</text>
<text transform="translate(294.13 595.4) rotate(-90) scale(1 0.86)" font-size="10.6" text-anchor="end" fill="#1a1a1a" stroke="#1a1a1a" stroke-width="0.22">r_IbSP</text>
<text transform="translate(393.81 595.4) rotate(-90) scale(1 0.86)" font-size="10.6" text-anchor="end" fill="#1a1a1a" stroke="#1a1a1a" stroke-width="0.22">p_Ib1</text>
<text transform="translate(403.51 595.4) rotate(-90) scale(1 0.86)" font-size="10.6" text-anchor="end" fill="#1a1a1a" stroke="#1a1a1a" stroke-width="0.22">p_Ib2</text>
<text transform="translate(414.33 595.4) rotate(-90) scale(1 0.86)" font-size="10.6" text-anchor="end" fill="#1a1a1a" stroke="#1a1a1a" stroke-width="0.22">r_IbBM</text>
<text transform="translate(424.33 595.4) rotate(-90) scale(1 0.86)" font-size="10.6" text-anchor="end" fill="#1a1a1a" stroke="#1a1a1a" stroke-width="0.22">r_IbSP</text>
<text x="51.50" y="446.60" font-size="11.2" text-anchor="middle" fill="#1a1a1a" stroke="#1a1a1a" stroke-width="0.22" transform="rotate(-90 51.50 446.60)">mRNA abundance (RPKM)</text>
<text x="452.0" y="448.2" font-size="11.2" text-anchor="middle" fill="#c02f47" stroke="#c02f47" stroke-width="0.22" transform="rotate(90 452.0 448.2)">% of Alternative allele</text>
<text x="183.00" y="11.25" font-size="12.5" text-anchor="start" fill="#111" stroke="#111" stroke-width="0.22" font-weight="bold">B</text>
<text x="284.80" y="10.53" font-size="10.8" text-anchor="middle" fill="#1a1a1a" stroke="#1a1a1a" stroke-width="0.22">ChrX</text>
<text x="231.20" y="23.99" font-size="10.6" text-anchor="middle" fill="#1a1a1a" stroke="#1a1a1a" stroke-width="0.22">q21.1</text>
<text x="284.40" y="23.99" font-size="10.6" text-anchor="middle" fill="#c02f47" stroke="#c02f47" stroke-width="0.22">q22.1</text>
<text x="342.80" y="23.99" font-size="10.6" text-anchor="middle" fill="#1a1a1a" stroke="#1a1a1a" stroke-width="0.22">q23</text>
<rect x="220.30" y="27.60" width="25.90" height="8.20" fill="#0a0a0a" stroke="none" stroke-width="1" rx="0"/>
<rect x="246.20" y="27.60" width="6.80" height="8.20" fill="#fff" stroke="none" stroke-width="1" rx="0"/>
<rect x="253.00" y="27.60" width="23.30" height="8.20" fill="#4d4d4d" stroke="none" stroke-width="1" rx="0"/>
<rect x="276.30" y="27.60" width="19.70" height="8.20" fill="#fff" stroke="none" stroke-width="1" rx="0"/>
<rect x="296.00" y="27.60" width="5.00" height="8.20" fill="#9a9a9a" stroke="none" stroke-width="1" rx="0"/>
<rect x="301.00" y="27.60" width="24.00" height="8.20" fill="#fff" stroke="none" stroke-width="1" rx="0"/>
<rect x="325.00" y="27.60" width="35.70" height="8.20" fill="#3a3a3a" stroke="none" stroke-width="1" rx="0"/>
<rect x="360.70" y="27.60" width="20.80" height="8.20" fill="#fff" stroke="none" stroke-width="1" rx="0"/>
<rect x="284.60" y="27.00" width="4.60" height="9.40" fill="#e0202a" stroke="none" stroke-width="1" rx="0"/>
<rect x="220.30" y="27.60" width="161.20" height="8.20" fill="none" stroke="#111" stroke-width="0.9" rx="0"/>
<line x1="276.50" y1="41.00" x2="297.50" y2="41.00" stroke="#222" stroke-width="0.9"/>
<path d="M280.5 38.6 L276.2 41 L280.5 43.4" fill="none" stroke="#222" stroke-width="0.9"/>
<text x="288.80" y="53.33" font-size="10.8" text-anchor="middle" fill="#1a1a1a" stroke="#1a1a1a" stroke-width="0.22" font-style="italic">BTK</text>
<line x1="194.50" y1="59.60" x2="276.00" y2="48.50" stroke="#7a7a7a" stroke-width="1.2" stroke-dasharray="3.2 2.2"/>
<line x1="302.30" y1="48.50" x2="381.00" y2="61.00" stroke="#7a7a7a" stroke-width="1.2" stroke-dasharray="3.2 2.2"/>
<text x="219.00" y="76.23" font-size="10.8" text-anchor="middle" fill="#1a1a1a" stroke="#1a1a1a" stroke-width="0.22">p_Ib1</text>
<text x="266.10" y="76.23" font-size="10.8" text-anchor="middle" fill="#1a1a1a" stroke="#1a1a1a" stroke-width="0.22">p_Ib3</text>
<text x="312.70" y="76.23" font-size="10.8" text-anchor="middle" fill="#1a1a1a" stroke="#1a1a1a" stroke-width="0.22">r_IbBM</text>
<text x="358.80" y="76.23" font-size="10.8" text-anchor="middle" fill="#1a1a1a" stroke="#1a1a1a" stroke-width="0.22">r_IbSP</text>
<text x="183.60" y="89.90" font-size="10.2" text-anchor="start" fill="#1a1a1a" stroke="#1a1a1a" stroke-width="0.22">5′</text>
<text x="384.80" y="89.90" font-size="10.2" text-anchor="start" fill="#1a1a1a" stroke="#1a1a1a" stroke-width="0.22">3′</text>
<text y="89.90" font-size="10.2" fill="#1a1a1a" stroke-width="0.22"><tspan x="198.00" fill="#1a1a1a" stroke="#1a1a1a">A</tspan><tspan x="204.61" fill="#1a1a1a" stroke="#1a1a1a">G</tspan><tspan x="212.32" fill="#1a1a1a" stroke="#1a1a1a">G</tspan><tspan x="220.03" fill="#4f5ea3" stroke="#4f5ea3">C</tspan><tspan x="227.18" fill="#1a1a1a" stroke="#1a1a1a">A</tspan><tspan x="233.79" fill="#1a1a1a" stroke="#1a1a1a">G</tspan></text>
<text y="89.90" font-size="10.2" fill="#1a1a1a" stroke-width="0.22"><tspan x="244.30" fill="#1a1a1a" stroke="#1a1a1a">A</tspan><tspan x="250.89" fill="#1a1a1a" stroke="#1a1a1a">G</tspan><tspan x="258.59" fill="#1a1a1a" stroke="#1a1a1a">G</tspan><tspan x="266.28" fill="#4f5ea3" stroke="#4f5ea3">C</tspan><tspan x="273.41" fill="#1a1a1a" stroke="#1a1a1a">A</tspan><tspan x="280.01" fill="#1a1a1a" stroke="#1a1a1a">G</tspan></text>
<text y="89.90" font-size="10.2" fill="#1a1a1a" stroke-width="0.22"><tspan x="291.30" fill="#1a1a1a" stroke="#1a1a1a">A</tspan><tspan x="297.87" fill="#1a1a1a" stroke="#1a1a1a">G</tspan><tspan x="305.53" fill="#4aa84a" stroke="#4aa84a">A</tspan><tspan x="312.10" fill="#c02f47" stroke="#c02f47">G</tspan><tspan x="319.77" fill="#1a1a1a" stroke="#1a1a1a">A</tspan><tspan x="326.34" fill="#1a1a1a" stroke="#1a1a1a">G</tspan></text>
<text y="89.90" font-size="10.2" fill="#1a1a1a" stroke-width="0.22"><tspan x="338.70" fill="#1a1a1a" stroke="#1a1a1a">A</tspan><tspan x="345.25" fill="#1a1a1a" stroke="#1a1a1a">G</tspan><tspan x="352.90" fill="#4aa84a" stroke="#4aa84a">A</tspan><tspan x="359.45" fill="#c02f47" stroke="#c02f47">G</tspan><tspan x="367.10" fill="#1a1a1a" stroke="#1a1a1a">A</tspan><tspan x="373.65" fill="#1a1a1a" stroke="#1a1a1a">G</tspan></text>
<rect x="197.50" y="92.00" width="43.80" height="4.20" fill="#d4d4d4" stroke="none" stroke-width="1" rx="0"/>
<line x1="198.5" y1="94.1" x2="240.3" y2="94.1" stroke="#b4b4b4" stroke-width="1.2" stroke-dasharray="1 1"/>
<rect x="244.90" y="92.00" width="42.50" height="4.20" fill="#d4d4d4" stroke="none" stroke-width="1" rx="0"/>
<line x1="245.9" y1="94.1" x2="286.4" y2="94.1" stroke="#b4b4b4" stroke-width="1.2" stroke-dasharray="1 1"/>
<rect x="290.50" y="92.00" width="44.10" height="4.20" fill="#d4d4d4" stroke="none" stroke-width="1" rx="0"/>
<line x1="291.5" y1="94.1" x2="333.6" y2="94.1" stroke="#b4b4b4" stroke-width="1.2" stroke-dasharray="1 1"/>
<rect x="337.50" y="92.00" width="43.70" height="4.20" fill="#d4d4d4" stroke="none" stroke-width="1" rx="0"/>
<line x1="338.5" y1="94.1" x2="380.2" y2="94.1" stroke="#b4b4b4" stroke-width="1.2" stroke-dasharray="1 1"/>
<rect x="305.80" y="92.40" width="6.90" height="3.40" fill="#7dbb6a" stroke="none" stroke-width="1" rx="0"/>
<rect x="313.30" y="92.40" width="6.30" height="3.40" fill="#a0554a" stroke="none" stroke-width="1" rx="0"/>
<rect x="351.30" y="92.00" width="6.40" height="4.20" fill="#5bb04a" stroke="none" stroke-width="1" rx="0"/>
<rect x="358.30" y="92.00" width="9.20" height="4.20" fill="#d8532e" stroke="none" stroke-width="1" rx="0"/>
<line x1="358.30" y1="91.00" x2="358.30" y2="97.40" stroke="#d0202a" stroke-width="1.0"/>
<line x1="367.30" y1="91.00" x2="367.30" y2="97.40" stroke="#d0202a" stroke-width="1.0"/>
<line x1="358.30" y1="91.40" x2="367.30" y2="91.40" stroke="#d0202a" stroke-width="1.0"/>
<rect x="203.50" y="98.10" width="37.80" height="4.40" fill="#c6c6c6" stroke="none" stroke-width="1" rx="0"/>
<rect x="197.50" y="108.90" width="43.80" height="4.40" fill="#c6c6c6" stroke="none" stroke-width="1" rx="0"/>
<rect x="197.50" y="124.20" width="14.40" height="4.40" fill="#c6c6c6" stroke="none" stroke-width="1" rx="0"/>
<rect x="197.50" y="129.60" width="14.40" height="4.40" fill="#c6c6c6" stroke="none" stroke-width="1" rx="0"/>
<rect x="197.50" y="135.00" width="23.10" height="4.40" fill="#c6c6c6" stroke="none" stroke-width="1" rx="0"/>
<rect x="197.50" y="140.80" width="43.80" height="4.40" fill="#c6c6c6" stroke="none" stroke-width="1" rx="0"/>
<rect x="197.50" y="146.14" width="43.80" height="4.40" fill="#c6c6c6" stroke="none" stroke-width="1" rx="0"/>
<rect x="197.50" y="151.48" width="43.80" height="4.40" fill="#c6c6c6" stroke="none" stroke-width="1" rx="0"/>
<rect x="197.50" y="156.82" width="43.80" height="4.40" fill="#c6c6c6" stroke="none" stroke-width="1" rx="0"/>
<rect x="197.50" y="162.16" width="43.80" height="4.40" fill="#c6c6c6" stroke="none" stroke-width="1" rx="0"/>
<rect x="197.50" y="167.50" width="43.80" height="4.40" fill="#c6c6c6" stroke="none" stroke-width="1" rx="0"/>
<rect x="197.50" y="172.84" width="43.80" height="4.40" fill="#c6c6c6" stroke="none" stroke-width="1" rx="0"/>
<rect x="197.50" y="178.18" width="43.80" height="4.40" fill="#c6c6c6" stroke="none" stroke-width="1" rx="0"/>
<rect x="197.50" y="183.52" width="43.80" height="4.40" fill="#c6c6c6" stroke="none" stroke-width="1" rx="0"/>
<rect x="197.50" y="188.86" width="43.80" height="4.40" fill="#c6c6c6" stroke="none" stroke-width="1" rx="0"/>
<rect x="197.50" y="194.20" width="43.80" height="4.40" fill="#c6c6c6" stroke="none" stroke-width="1" rx="0"/>
<rect x="197.50" y="199.54" width="43.80" height="4.40" fill="#c6c6c6" stroke="none" stroke-width="1" rx="0"/>
<rect x="197.50" y="204.88" width="43.80" height="4.40" fill="#c6c6c6" stroke="none" stroke-width="1" rx="0"/>
<rect x="197.50" y="210.22" width="43.80" height="4.40" fill="#c6c6c6" stroke="none" stroke-width="1" rx="0"/>
<rect x="197.50" y="215.56" width="43.80" height="4.40" fill="#c6c6c6" stroke="none" stroke-width="1" rx="0"/>
<rect x="197.50" y="220.90" width="43.80" height="4.40" fill="#c6c6c6" stroke="none" stroke-width="1" rx="0"/>
<rect x="197.50" y="226.24" width="43.80" height="4.40" fill="#c6c6c6" stroke="none" stroke-width="1" rx="0"/>
<rect x="244.90" y="98.00" width="42.50" height="4.40" fill="#c6c6c6" stroke="none" stroke-width="1" rx="0"/>
<rect x="244.90" y="103.50" width="42.50" height="4.40" fill="#c6c6c6" stroke="none" stroke-width="1" rx="0"/>
<rect x="244.90" y="109.00" width="42.50" height="4.40" fill="#c6c6c6" stroke="none" stroke-width="1" rx="0"/>
<rect x="244.90" y="114.50" width="42.50" height="4.40" fill="#c6c6c6" stroke="none" stroke-width="1" rx="0"/>
<rect x="244.90" y="120.00" width="42.50" height="4.40" fill="#c6c6c6" stroke="none" stroke-width="1" rx="0"/>
<rect x="244.90" y="143.40" width="12.70" height="4.40" fill="#c6c6c6" stroke="none" stroke-width="1" rx="0"/>
<rect x="244.90" y="149.00" width="12.70" height="4.40" fill="#c6c6c6" stroke="none" stroke-width="1" rx="0"/>
<rect x="244.90" y="154.80" width="42.50" height="4.40" fill="#c6c6c6" stroke="none" stroke-width="1" rx="0"/>
<rect x="244.90" y="160.40" width="42.50" height="4.40" fill="#c6c6c6" stroke="none" stroke-width="1" rx="0"/>
<rect x="244.90" y="166.00" width="42.50" height="4.40" fill="#c6c6c6" stroke="none" stroke-width="1" rx="0"/>
<rect x="244.90" y="171.60" width="42.50" height="4.40" fill="#c6c6c6" stroke="none" stroke-width="1" rx="0"/>
<rect x="290.50" y="103.10" width="44.10" height="4.40" fill="#c6c6c6" stroke="none" stroke-width="1" rx="0"/>
<rect x="290.50" y="108.70" width="44.10" height="4.40" fill="#c6c6c6" stroke="none" stroke-width="1" rx="0"/>
<rect x="290.50" y="114.30" width="44.10" height="4.40" fill="#c6c6c6" stroke="none" stroke-width="1" rx="0"/>
<rect x="290.50" y="119.90" width="44.10" height="4.40" fill="#c6c6c6" stroke="none" stroke-width="1" rx="0"/>
<rect x="290.50" y="125.50" width="44.10" height="4.40" fill="#c6c6c6" stroke="none" stroke-width="1" rx="0"/>
<rect x="290.50" y="131.10" width="44.10" height="4.40" fill="#c6c6c6" stroke="none" stroke-width="1" rx="0"/>
<rect x="290.50" y="136.70" width="44.10" height="4.40" fill="#c6c6c6" stroke="none" stroke-width="1" rx="0"/>
<rect x="290.50" y="187.50" width="14.10" height="4.40" fill="#c6c6c6" stroke="none" stroke-width="1" rx="0"/>
<rect x="290.50" y="193.00" width="14.10" height="4.40" fill="#c6c6c6" stroke="none" stroke-width="1" rx="0"/>
<rect x="290.50" y="198.50" width="14.10" height="4.40" fill="#c6c6c6" stroke="none" stroke-width="1" rx="0"/>
<rect x="290.50" y="203.90" width="44.10" height="4.40" fill="#c6c6c6" stroke="none" stroke-width="1" rx="0"/>
<rect x="290.50" y="209.50" width="44.10" height="4.40" fill="#c6c6c6" stroke="none" stroke-width="1" rx="0"/>
<rect x="290.50" y="215.10" width="44.10" height="4.40" fill="#c6c6c6" stroke="none" stroke-width="1" rx="0"/>
<rect x="337.50" y="98.50" width="43.70" height="4.40" fill="#c6c6c6" stroke="none" stroke-width="1" rx="0"/>
<rect x="337.50" y="103.88" width="43.70" height="4.40" fill="#c6c6c6" stroke="none" stroke-width="1" rx="0"/>
<rect x="337.50" y="109.25" width="43.70" height="4.40" fill="#c6c6c6" stroke="none" stroke-width="1" rx="0"/>
<rect x="337.50" y="114.63" width="43.70" height="4.40" fill="#c6c6c6" stroke="none" stroke-width="1" rx="0"/>
<rect x="337.50" y="120.00" width="43.70" height="4.40" fill="#c6c6c6" stroke="none" stroke-width="1" rx="0"/>
<rect x="337.50" y="125.38" width="43.70" height="4.40" fill="#c6c6c6" stroke="none" stroke-width="1" rx="0"/>
<rect x="337.50" y="130.76" width="43.70" height="4.40" fill="#c6c6c6" stroke="none" stroke-width="1" rx="0"/>
<rect x="337.50" y="136.13" width="43.70" height="4.40" fill="#c6c6c6" stroke="none" stroke-width="1" rx="0"/>
<rect x="337.50" y="141.51" width="43.70" height="4.40" fill="#c6c6c6" stroke="none" stroke-width="1" rx="0"/>
<rect x="337.50" y="146.88" width="43.70" height="4.40" fill="#c6c6c6" stroke="none" stroke-width="1" rx="0"/>
<rect x="337.50" y="152.26" width="43.70" height="4.40" fill="#c6c6c6" stroke="none" stroke-width="1" rx="0"/>
<rect x="343.80" y="157.64" width="37.40" height="4.40" fill="#c6c6c6" stroke="none" stroke-width="1" rx="0"/>
<rect x="343.80" y="163.01" width="37.40" height="4.40" fill="#c6c6c6" stroke="none" stroke-width="1" rx="0"/>
<rect x="350.20" y="168.39" width="31.00" height="4.40" fill="#c6c6c6" stroke="none" stroke-width="1" rx="0"/>
<rect x="337.50" y="173.76" width="13.80" height="4.40" fill="#c6c6c6" stroke="none" stroke-width="1" rx="0"/>
<rect x="337.50" y="179.14" width="13.80" height="4.40" fill="#c6c6c6" stroke="none" stroke-width="1" rx="0"/>
<rect x="337.50" y="184.52" width="13.80" height="4.40" fill="#c6c6c6" stroke="none" stroke-width="1" rx="0"/>
<rect x="337.50" y="189.89" width="43.70" height="4.40" fill="#c6c6c6" stroke="none" stroke-width="1" rx="0"/>
<rect x="337.50" y="195.27" width="43.70" height="4.40" fill="#c6c6c6" stroke="none" stroke-width="1" rx="0"/>
<rect x="337.50" y="200.64" width="43.70" height="4.40" fill="#c6c6c6" stroke="none" stroke-width="1" rx="0"/>
<rect x="337.50" y="206.02" width="43.70" height="4.40" fill="#c6c6c6" stroke="none" stroke-width="1" rx="0"/>
<rect x="337.50" y="211.40" width="43.70" height="4.40" fill="#c6c6c6" stroke="none" stroke-width="1" rx="0"/>
<rect x="337.50" y="216.77" width="43.70" height="4.40" fill="#c6c6c6" stroke="none" stroke-width="1" rx="0"/>
<rect x="337.50" y="222.15" width="43.70" height="4.40" fill="#c6c6c6" stroke="none" stroke-width="1" rx="0"/>
<rect x="337.50" y="227.52" width="43.70" height="4.40" fill="#c6c6c6" stroke="none" stroke-width="1" rx="0"/>
<rect x="337.50" y="232.90" width="43.70" height="4.40" fill="#c6c6c6" stroke="none" stroke-width="1" rx="0"/>
<rect x="307.00" y="103.10" width="5.00" height="4.40" fill="#bfe2b2" stroke="none" stroke-width="1" rx="0"/>
<rect x="314.40" y="103.10" width="5.00" height="4.40" fill="#f0d3bb" stroke="none" stroke-width="1" rx="0"/>
<text x="309.50" y="106.70" font-size="4.4" text-anchor="middle" fill="#2f7f2f">A</text>
<text x="316.90" y="106.70" font-size="4.4" text-anchor="middle" fill="#a0522d">G</text>
<rect x="307.00" y="108.70" width="5.00" height="4.40" fill="#bfe2b2" stroke="none" stroke-width="1" rx="0"/>
<rect x="314.40" y="108.70" width="5.00" height="4.40" fill="#f0d3bb" stroke="none" stroke-width="1" rx="0"/>
<text x="309.50" y="112.30" font-size="4.4" text-anchor="middle" fill="#2f7f2f">A</text>
<text x="316.90" y="112.30" font-size="4.4" text-anchor="middle" fill="#a0522d">G</text>
<rect x="307.00" y="119.90" width="5.00" height="4.40" fill="#bfe2b2" stroke="none" stroke-width="1" rx="0"/>
<rect x="314.40" y="119.90" width="5.00" height="4.40" fill="#f0d3bb" stroke="none" stroke-width="1" rx="0"/>
<text x="309.50" y="123.50" font-size="4.4" text-anchor="middle" fill="#2f7f2f">A</text>
<text x="316.90" y="123.50" font-size="4.4" text-anchor="middle" fill="#a0522d">G</text>
<rect x="307.00" y="125.50" width="5.00" height="4.40" fill="#bfe2b2" stroke="none" stroke-width="1" rx="0"/>
<rect x="314.40" y="125.50" width="5.00" height="4.40" fill="#f0d3bb" stroke="none" stroke-width="1" rx="0"/>
<text x="309.50" y="129.10" font-size="4.4" text-anchor="middle" fill="#2f7f2f">A</text>
<text x="316.90" y="129.10" font-size="4.4" text-anchor="middle" fill="#a0522d">G</text>
<rect x="307.00" y="203.90" width="5.00" height="4.40" fill="#bfe2b2" stroke="none" stroke-width="1" rx="0"/>
<rect x="314.40" y="203.90" width="5.00" height="4.40" fill="#f0d3bb" stroke="none" stroke-width="1" rx="0"/>
<text x="309.50" y="207.50" font-size="4.4" text-anchor="middle" fill="#2f7f2f">A</text>
<text x="316.90" y="207.50" font-size="4.4" text-anchor="middle" fill="#a0522d">G</text>
<rect x="307.00" y="209.50" width="5.00" height="4.40" fill="#bfe2b2" stroke="none" stroke-width="1" rx="0"/>
<rect x="314.40" y="209.50" width="5.00" height="4.40" fill="#f0d3bb" stroke="none" stroke-width="1" rx="0"/>
<text x="309.50" y="213.10" font-size="4.4" text-anchor="middle" fill="#2f7f2f">A</text>
<text x="316.90" y="213.10" font-size="4.4" text-anchor="middle" fill="#a0522d">G</text>
<rect x="307.00" y="215.10" width="5.00" height="4.40" fill="#bfe2b2" stroke="none" stroke-width="1" rx="0"/>
<rect x="314.40" y="215.10" width="5.00" height="4.40" fill="#f0d3bb" stroke="none" stroke-width="1" rx="0"/>
<text x="309.50" y="218.70" font-size="4.4" text-anchor="middle" fill="#2f7f2f">A</text>
<text x="316.90" y="218.70" font-size="4.4" text-anchor="middle" fill="#a0522d">G</text>
<rect x="352.40" y="98.50" width="5.00" height="4.40" fill="#bfe2b2" stroke="none" stroke-width="1" rx="0"/>
<rect x="360.00" y="98.50" width="5.00" height="4.40" fill="#f0d3bb" stroke="none" stroke-width="1" rx="0"/>
<text x="354.90" y="102.10" font-size="4.4" text-anchor="middle" fill="#2f7f2f">A</text>
<text x="362.50" y="102.10" font-size="4.4" text-anchor="middle" fill="#a0522d">G</text>
<rect x="352.40" y="103.88" width="5.00" height="4.40" fill="#bfe2b2" stroke="none" stroke-width="1" rx="0"/>
<rect x="360.00" y="103.88" width="5.00" height="4.40" fill="#f0d3bb" stroke="none" stroke-width="1" rx="0"/>
<text x="354.90" y="107.48" font-size="4.4" text-anchor="middle" fill="#2f7f2f">A</text>
<text x="362.50" y="107.48" font-size="4.4" text-anchor="middle" fill="#a0522d">G</text>
<rect x="352.40" y="109.25" width="5.00" height="4.40" fill="#bfe2b2" stroke="none" stroke-width="1" rx="0"/>
<rect x="360.00" y="109.25" width="5.00" height="4.40" fill="#f0d3bb" stroke="none" stroke-width="1" rx="0"/>
<text x="354.90" y="112.85" font-size="4.4" text-anchor="middle" fill="#2f7f2f">A</text>
<text x="362.50" y="112.85" font-size="4.4" text-anchor="middle" fill="#a0522d">G</text>
<rect x="352.40" y="114.63" width="5.00" height="4.40" fill="#bfe2b2" stroke="none" stroke-width="1" rx="0"/>
<rect x="360.00" y="114.63" width="5.00" height="4.40" fill="#f0d3bb" stroke="none" stroke-width="1" rx="0"/>
<text x="354.90" y="118.23" font-size="4.4" text-anchor="middle" fill="#2f7f2f">A</text>
<text x="362.50" y="118.23" font-size="4.4" text-anchor="middle" fill="#a0522d">G</text>
<rect x="352.40" y="120.00" width="5.00" height="4.40" fill="#bfe2b2" stroke="none" stroke-width="1" rx="0"/>
<rect x="360.00" y="120.00" width="5.00" height="4.40" fill="#f0d3bb" stroke="none" stroke-width="1" rx="0"/>
<text x="354.90" y="123.60" font-size="4.4" text-anchor="middle" fill="#2f7f2f">A</text>
<text x="362.50" y="123.60" font-size="4.4" text-anchor="middle" fill="#a0522d">G</text>
<rect x="352.40" y="125.38" width="5.00" height="4.40" fill="#bfe2b2" stroke="none" stroke-width="1" rx="0"/>
<rect x="360.00" y="125.38" width="5.00" height="4.40" fill="#f0d3bb" stroke="none" stroke-width="1" rx="0"/>
<text x="354.90" y="128.98" font-size="4.4" text-anchor="middle" fill="#2f7f2f">A</text>
<text x="362.50" y="128.98" font-size="4.4" text-anchor="middle" fill="#a0522d">G</text>
<rect x="352.40" y="130.76" width="5.00" height="4.40" fill="#bfe2b2" stroke="none" stroke-width="1" rx="0"/>
<rect x="360.00" y="130.76" width="5.00" height="4.40" fill="#f0d3bb" stroke="none" stroke-width="1" rx="0"/>
<text x="354.90" y="134.36" font-size="4.4" text-anchor="middle" fill="#2f7f2f">A</text>
<text x="362.50" y="134.36" font-size="4.4" text-anchor="middle" fill="#a0522d">G</text>
<rect x="352.40" y="141.51" width="5.00" height="4.40" fill="#bfe2b2" stroke="none" stroke-width="1" rx="0"/>
<rect x="360.00" y="141.51" width="5.00" height="4.40" fill="#f0d3bb" stroke="none" stroke-width="1" rx="0"/>
<text x="354.90" y="145.11" font-size="4.4" text-anchor="middle" fill="#2f7f2f">A</text>
<text x="362.50" y="145.11" font-size="4.4" text-anchor="middle" fill="#a0522d">G</text>
<rect x="352.40" y="146.88" width="5.00" height="4.40" fill="#bfe2b2" stroke="none" stroke-width="1" rx="0"/>
<rect x="360.00" y="146.88" width="5.00" height="4.40" fill="#f0d3bb" stroke="none" stroke-width="1" rx="0"/>
<text x="354.90" y="150.48" font-size="4.4" text-anchor="middle" fill="#2f7f2f">A</text>
<text x="362.50" y="150.48" font-size="4.4" text-anchor="middle" fill="#a0522d">G</text>
<rect x="352.40" y="152.26" width="5.00" height="4.40" fill="#bfe2b2" stroke="none" stroke-width="1" rx="0"/>
<rect x="360.00" y="152.26" width="5.00" height="4.40" fill="#f0d3bb" stroke="none" stroke-width="1" rx="0"/>
<text x="354.90" y="155.86" font-size="4.4" text-anchor="middle" fill="#2f7f2f">A</text>
<text x="362.50" y="155.86" font-size="4.4" text-anchor="middle" fill="#a0522d">G</text>
<rect x="352.40" y="157.64" width="5.00" height="4.40" fill="#bfe2b2" stroke="none" stroke-width="1" rx="0"/>
<rect x="360.00" y="157.64" width="5.00" height="4.40" fill="#f0d3bb" stroke="none" stroke-width="1" rx="0"/>
<text x="354.90" y="161.24" font-size="4.4" text-anchor="middle" fill="#2f7f2f">A</text>
<text x="362.50" y="161.24" font-size="4.4" text-anchor="middle" fill="#a0522d">G</text>
<rect x="352.40" y="163.01" width="5.00" height="4.40" fill="#bfe2b2" stroke="none" stroke-width="1" rx="0"/>
<rect x="360.00" y="163.01" width="5.00" height="4.40" fill="#f0d3bb" stroke="none" stroke-width="1" rx="0"/>
<text x="354.90" y="166.61" font-size="4.4" text-anchor="middle" fill="#2f7f2f">A</text>
<text x="362.50" y="166.61" font-size="4.4" text-anchor="middle" fill="#a0522d">G</text>
<rect x="352.40" y="168.39" width="5.00" height="4.40" fill="#bfe2b2" stroke="none" stroke-width="1" rx="0"/>
<rect x="360.00" y="168.39" width="5.00" height="4.40" fill="#f0d3bb" stroke="none" stroke-width="1" rx="0"/>
<text x="354.90" y="171.99" font-size="4.4" text-anchor="middle" fill="#2f7f2f">A</text>
<text x="362.50" y="171.99" font-size="4.4" text-anchor="middle" fill="#a0522d">G</text>
<rect x="352.40" y="189.89" width="5.00" height="4.40" fill="#bfe2b2" stroke="none" stroke-width="1" rx="0"/>
<rect x="360.00" y="189.89" width="5.00" height="4.40" fill="#f0d3bb" stroke="none" stroke-width="1" rx="0"/>
<text x="354.90" y="193.49" font-size="4.4" text-anchor="middle" fill="#2f7f2f">A</text>
<text x="362.50" y="193.49" font-size="4.4" text-anchor="middle" fill="#a0522d">G</text>
<rect x="352.40" y="195.27" width="5.00" height="4.40" fill="#bfe2b2" stroke="none" stroke-width="1" rx="0"/>
<rect x="360.00" y="195.27" width="5.00" height="4.40" fill="#f0d3bb" stroke="none" stroke-width="1" rx="0"/>
<text x="354.90" y="198.87" font-size="4.4" text-anchor="middle" fill="#2f7f2f">A</text>
<text x="362.50" y="198.87" font-size="4.4" text-anchor="middle" fill="#a0522d">G</text>
<rect x="352.40" y="206.02" width="5.00" height="4.40" fill="#bfe2b2" stroke="none" stroke-width="1" rx="0"/>
<rect x="360.00" y="206.02" width="5.00" height="4.40" fill="#f0d3bb" stroke="none" stroke-width="1" rx="0"/>
<text x="354.90" y="209.62" font-size="4.4" text-anchor="middle" fill="#2f7f2f">A</text>
<text x="362.50" y="209.62" font-size="4.4" text-anchor="middle" fill="#a0522d">G</text>
<rect x="352.40" y="211.40" width="5.00" height="4.40" fill="#bfe2b2" stroke="none" stroke-width="1" rx="0"/>
<rect x="360.00" y="211.40" width="5.00" height="4.40" fill="#f0d3bb" stroke="none" stroke-width="1" rx="0"/>
<text x="354.90" y="215.00" font-size="4.4" text-anchor="middle" fill="#2f7f2f">A</text>
<text x="362.50" y="215.00" font-size="4.4" text-anchor="middle" fill="#a0522d">G</text>
<rect x="352.40" y="216.77" width="5.00" height="4.40" fill="#bfe2b2" stroke="none" stroke-width="1" rx="0"/>
<rect x="360.00" y="216.77" width="5.00" height="4.40" fill="#f0d3bb" stroke="none" stroke-width="1" rx="0"/>
<text x="354.90" y="220.37" font-size="4.4" text-anchor="middle" fill="#2f7f2f">A</text>
<text x="362.50" y="220.37" font-size="4.4" text-anchor="middle" fill="#a0522d">G</text>
<rect x="352.40" y="222.15" width="5.00" height="4.40" fill="#bfe2b2" stroke="none" stroke-width="1" rx="0"/>
<rect x="360.00" y="222.15" width="5.00" height="4.40" fill="#f0d3bb" stroke="none" stroke-width="1" rx="0"/>
<text x="354.90" y="225.75" font-size="4.4" text-anchor="middle" fill="#2f7f2f">A</text>
<text x="362.50" y="225.75" font-size="4.4" text-anchor="middle" fill="#a0522d">G</text>
<rect x="352.40" y="227.52" width="5.00" height="4.40" fill="#bfe2b2" stroke="none" stroke-width="1" rx="0"/>
<rect x="360.00" y="227.52" width="5.00" height="4.40" fill="#f0d3bb" stroke="none" stroke-width="1" rx="0"/>
<text x="354.90" y="231.12" font-size="4.4" text-anchor="middle" fill="#2f7f2f">A</text>
<text x="362.50" y="231.12" font-size="4.4" text-anchor="middle" fill="#a0522d">G</text>
<line x1="212.30" y1="96.80" x2="212.30" y2="236.20" stroke="#3a3a3a" stroke-width="1.05" stroke-dasharray="2.4 1.6"/>
<line x1="219.60" y1="96.80" x2="219.60" y2="236.20" stroke="#3a3a3a" stroke-width="1.05" stroke-dasharray="2.4 1.6"/>
<line x1="227.70" y1="96.80" x2="227.70" y2="236.20" stroke="#d07070" stroke-width="0.8" stroke-dasharray="2.4 1.6"/>
<line x1="258.70" y1="96.80" x2="258.70" y2="236.20" stroke="#3a3a3a" stroke-width="1.05" stroke-dasharray="2.4 1.6"/>
<line x1="266.10" y1="96.80" x2="266.10" y2="236.20" stroke="#3a3a3a" stroke-width="1.05" stroke-dasharray="2.4 1.6"/>
<line x1="273.90" y1="96.80" x2="273.90" y2="236.20" stroke="#d07070" stroke-width="0.8" stroke-dasharray="2.4 1.6"/>
<line x1="305.80" y1="96.80" x2="305.80" y2="236.20" stroke="#3a3a3a" stroke-width="1.05" stroke-dasharray="2.4 1.6"/>
<line x1="313.00" y1="96.80" x2="313.00" y2="236.20" stroke="#3a3a3a" stroke-width="1.05" stroke-dasharray="2.4 1.6"/>
<line x1="321.30" y1="96.80" x2="321.30" y2="236.20" stroke="#d07070" stroke-width="0.8" stroke-dasharray="2.4 1.6"/>
<line x1="351.30" y1="96.80" x2="351.30" y2="236.20" stroke="#3a3a3a" stroke-width="1.05" stroke-dasharray="2.4 1.6"/>
<line x1="358.60" y1="96.80" x2="358.60" y2="236.20" stroke="#3a3a3a" stroke-width="1.05" stroke-dasharray="2.4 1.6"/>
<line x1="366.70" y1="96.80" x2="366.70" y2="236.20" stroke="#d07070" stroke-width="0.8" stroke-dasharray="2.4 1.6"/>
<text x="188.60" y="248.92" font-size="10.5" text-anchor="start" fill="#1a1a1a" stroke="#1a1a1a" stroke-width="0.22">3′</text>
<text x="219.40" y="248.92" font-size="10.5" text-anchor="middle" fill="#1a1a1a" stroke="#1a1a1a" stroke-width="0.22">CGT</text>
<text x="266.10" y="248.92" font-size="10.5" text-anchor="middle" fill="#1a1a1a" stroke="#1a1a1a" stroke-width="0.22">CGT</text>
<text x="313.50" y="248.92" font-size="10.5" text-anchor="middle" fill="#1a1a1a" stroke="#1a1a1a" stroke-width="0.22">TCT</text>
<text x="358.60" y="248.92" font-size="10.5" text-anchor="middle" fill="#1a1a1a" stroke="#1a1a1a" stroke-width="0.22">TCT</text>
<text x="382.40" y="248.92" font-size="10.5" text-anchor="start" fill="#1a1a1a" stroke="#1a1a1a" stroke-width="0.22">5′</text>
<text x="186.80" y="163.90" font-size="11.0" text-anchor="middle" fill="#1a1a1a" stroke="#1a1a1a" stroke-width="0.22" transform="rotate(-90 186.80 163.90)">Exome-sequencing reads</text>
<line x1="195.20" y1="129.40" x2="195.20" y2="212.50" stroke="#444" stroke-width="0.9"/>
<path d="M193.0 208.6 L195.2 212.9 L197.4 208.6" fill="none" stroke="#444" stroke-width="0.9"/>
<text x="193.3" y="265.64" font-size="10.95" fill="#1a1a1a" stroke="#1a1a1a" stroke-width="0.22">plus strand TGC</text>
<line x1="276.20" y1="261.74" x2="287.20" y2="261.74" stroke="#333" stroke-width="0.85"/>
<path d="M284.6 259.94 L287.8 261.74 L284.6 263.54" fill="none" stroke="#333" stroke-width="0.85"/>
<text x="288.8" y="265.64" font-size="10.95" fill="#1a1a1a" stroke="#1a1a1a" stroke-width="0.22">T<tspan fill="#c02f47" stroke="#c02f47">CT</tspan></text>
<text x="314.4" y="265.64" font-size="10.95" fill="#1a1a1a" stroke="#1a1a1a" stroke-width="0.22">=</text>
<text x="325.6" y="265.64" font-size="10.95" font-style="italic" fill="#1a1a1a" stroke="#1a1a1a" stroke-width="0.22">BTK</text>
<text x="349.4" y="265.64" font-size="10.95" fill="#c02f47" stroke="#c02f47" stroke-width="0.22">C481S</text>
<text x="412.50" y="11.25" font-size="12.5" text-anchor="start" fill="#111" stroke="#111" stroke-width="0.22" font-weight="bold">C</text>
<text x="463.50" y="45.73" font-size="10.8" text-anchor="middle" fill="#1a1a1a" stroke="#1a1a1a" stroke-width="0.22">ChrX</text>
<text x="425.30" y="57.89" font-size="10.6" text-anchor="middle" fill="#1a1a1a" stroke="#1a1a1a" stroke-width="0.22">q23</text>
<text x="464.80" y="57.89" font-size="10.6" text-anchor="middle" fill="#c02f47" stroke="#c02f47" stroke-width="0.22">q22.1</text>
<text x="499.80" y="57.89" font-size="10.6" text-anchor="middle" fill="#1a1a1a" stroke="#1a1a1a" stroke-width="0.22">q21.1</text>
<defs><pattern id="hatch" patternUnits="userSpaceOnUse" width="1.8" height="4"><rect width="1.8" height="4" fill="#333"/><rect x="1.1" width="0.6" height="4" fill="#7a7a7a"/></pattern></defs>
<rect x="424.20" y="61.20" width="9.30" height="7.60" fill="url(#hatch)" stroke="none" stroke-width="1" rx="0"/>
<rect x="433.50" y="61.20" width="19.50" height="7.60" fill="#fff" stroke="none" stroke-width="1" rx="0"/>
<rect x="453.00" y="61.20" width="4.70" height="7.60" fill="#8a8a8a" stroke="none" stroke-width="1" rx="0"/>
<rect x="457.70" y="61.20" width="18.00" height="7.60" fill="#fff" stroke="none" stroke-width="1" rx="0"/>
<rect x="475.70" y="61.20" width="20.10" height="7.60" fill="url(#hatch)" stroke="none" stroke-width="1" rx="0"/>
<rect x="495.80" y="61.20" width="5.80" height="7.60" fill="#fff" stroke="none" stroke-width="1" rx="0"/>
<rect x="501.60" y="61.20" width="13.10" height="7.60" fill="#050505" stroke="none" stroke-width="1" rx="0"/>
<rect x="464.20" y="60.70" width="3.40" height="8.60" fill="#e0202a" stroke="none" stroke-width="1" rx="0"/>
<rect x="424.20" y="61.20" width="90.50" height="7.60" fill="none" stroke="#111" stroke-width="0.9" rx="0"/>
<line x1="456.60" y1="73.20" x2="476.60" y2="73.20" stroke="#222" stroke-width="0.9"/>
<path d="M472.6 70.8 L476.9 73.2 L472.6 75.6" fill="none" stroke="#222" stroke-width="0.9"/>
<text x="465.80" y="84.93" font-size="10.8" text-anchor="middle" fill="#1a1a1a" stroke="#1a1a1a" stroke-width="0.22" font-style="italic">BTK</text>
<line x1="455.50" y1="77.40" x2="421.60" y2="94.60" stroke="#7a7a7a" stroke-width="1.2" stroke-dasharray="3.2 2.2"/>
<line x1="477.70" y1="77.40" x2="510.50" y2="95.00" stroke="#7a7a7a" stroke-width="1.2" stroke-dasharray="3.2 2.2"/>
<text y="103.09" font-size="9.9" stroke-width="0.12"><tspan x="414.70" fill="#1a1a1a" stroke="#1a1a1a">5′</tspan><tspan x="428.20" fill="#cf4452" stroke="#cf4452">T</tspan><tspan x="433.20" fill="#1a1a1a" stroke="#1a1a1a">G</tspan><tspan x="440.30" fill="#1a1a1a" stroke="#1a1a1a">G</tspan><tspan x="447.30" fill="#5563a8" stroke="#5563a8">C</tspan><tspan x="457.90" fill="#cf4452" stroke="#cf4452">T</tspan><tspan x="463.60" fill="#1a1a1a" stroke="#1a1a1a">G</tspan><tspan x="470.40" fill="#5563a8" stroke="#5563a8">C</tspan><tspan x="478.60" fill="#5563a8" stroke="#5563a8">C</tspan><tspan x="488.60" fill="#cf4452" stroke="#cf4452">T</tspan><tspan x="493.60" fill="#5563a8" stroke="#5563a8">C</tspan><tspan x="501.00" fill="#5563a8" stroke="#5563a8">C</tspan><tspan x="510.80" fill="#1a1a1a" stroke="#1a1a1a">3′</tspan></text>
<rect x="457.00" y="93.80" width="20.30" height="12.70" fill="none" stroke="#5a6aa8" stroke-width="0.9" rx="0"/>
<text y="160.39" font-size="9.9" stroke-width="0.12"><tspan x="414.70" fill="#1a1a1a" stroke="#1a1a1a">5′</tspan><tspan x="428.20" fill="#cf4452" stroke="#cf4452">T</tspan><tspan x="433.20" fill="#1a1a1a" stroke="#1a1a1a">G</tspan><tspan x="440.30" fill="#1a1a1a" stroke="#1a1a1a">G</tspan><tspan x="447.30" fill="#5563a8" stroke="#5563a8">C</tspan><tspan x="457.90" fill="#cf4452" stroke="#cf4452">T</tspan><tspan x="463.60" fill="#5563a8" stroke="#5563a8">C</tspan><tspan x="470.40" fill="#cf4452" stroke="#cf4452">T</tspan><tspan x="478.60" fill="#5563a8" stroke="#5563a8">C</tspan><tspan x="488.60" fill="#cf4452" stroke="#cf4452">T</tspan><tspan x="493.60" fill="#5563a8" stroke="#5563a8">C</tspan><tspan x="501.00" fill="#5563a8" stroke="#5563a8">C</tspan><tspan x="510.80" fill="#1a1a1a" stroke="#1a1a1a">3′</tspan></text>
<rect x="457.00" y="151.20" width="20.30" height="11.60" fill="none" stroke="#5a6aa8" stroke-width="0.9" rx="0"/>
<text y="215.09" font-size="9.9" stroke-width="0.12"><tspan x="414.70" fill="#1a1a1a" stroke="#1a1a1a">5′</tspan><tspan x="428.20" fill="#cf4452" stroke="#cf4452">T</tspan><tspan x="433.20" fill="#1a1a1a" stroke="#1a1a1a">G</tspan><tspan x="440.30" fill="#1a1a1a" stroke="#1a1a1a">G</tspan><tspan x="447.30" fill="#5563a8" stroke="#5563a8">C</tspan><tspan x="457.90" fill="#cf4452" stroke="#cf4452">T</tspan><tspan x="463.60" fill="#5563a8" stroke="#5563a8">C</tspan><tspan x="470.40" fill="#cf4452" stroke="#cf4452">T</tspan><tspan x="478.60" fill="#5563a8" stroke="#5563a8">C</tspan><tspan x="488.60" fill="#cf4452" stroke="#cf4452">T</tspan><tspan x="493.60" fill="#5563a8" stroke="#5563a8">C</tspan><tspan x="501.00" fill="#5563a8" stroke="#5563a8">C</tspan><tspan x="510.80" fill="#1a1a1a" stroke="#1a1a1a">3′</tspan></text>
<rect x="457.00" y="205.30" width="20.30" height="11.70" fill="none" stroke="#5a6aa8" stroke-width="0.9" rx="0"/>
<polyline points="423.5,143.36 424.0,142.23 424.5,140.74 425.0,138.84 425.5,136.60 426.0,134.10 426.5,131.52 427.0,129.08 427.5,127.04 428.0,125.63 428.5,125.02 429.0,125.28 429.5,126.39 430.0,128.21 430.5,130.51 431.0,133.07 431.5,135.62 432.0,137.98 432.5,140.03 433.0,141.68 433.5,142.95 434.0,143.87 434.5,144.50 435.0,144.91 435.5,145.17 436.0,145.32" fill="none" stroke="#e26f7c" stroke-width="1.15" stroke-linejoin="round"/>
<polyline points="453.5,145.25 454.0,145.04 454.5,144.69 455.0,144.12 455.5,143.27 456.0,142.05 456.5,140.38 457.0,138.22 457.5,135.59 458.0,132.59 458.5,129.39 459.0,126.25 459.5,123.48 460.0,121.38 460.5,120.20 461.0,120.09 461.5,121.06 462.0,123.00 462.5,125.66 463.0,128.75 463.5,131.96 464.0,135.02 464.5,137.73 465.0,139.99 465.5,141.75 466.0,143.06 466.5,143.98 467.0,144.59 467.5,144.98 468.0,145.22" fill="none" stroke="#e26f7c" stroke-width="1.15" stroke-linejoin="round"/>
<polyline points="483.0,145.28 483.5,145.09 484.0,144.77 484.5,144.26 485.0,143.47 485.5,142.33 486.0,140.75 486.5,138.69 487.0,136.15 487.5,133.21 488.0,130.03 488.5,126.86 489.0,123.99 489.5,121.73 490.0,120.35 490.5,120.02 491.0,120.78 491.5,122.54 492.0,125.08 492.5,128.11 493.0,131.32 493.5,134.43 494.0,137.22 494.5,139.57 495.0,141.44 495.5,142.83 496.0,143.82 496.5,144.49 497.0,144.92 497.5,145.18 498.0,145.33" fill="none" stroke="#e26f7c" stroke-width="1.15" stroke-linejoin="round"/>
<line x1="423.5" y1="145.5" x2="508.5" y2="145.5" stroke="#c8c8d0" stroke-width="0.6"/>
<polyline points="445.0,145.34 445.5,145.21 446.0,144.99 446.5,144.64 447.0,144.11 447.5,143.35 448.0,142.31 448.5,140.96 449.0,139.32 449.5,137.45 450.0,135.45 450.5,133.50 451.0,131.77 451.5,130.46 452.0,129.72 452.5,129.66 453.0,130.26 453.5,131.47 454.0,133.13 454.5,135.05 455.0,137.06 455.5,138.96 456.0,140.65 456.5,142.06 457.0,143.16 457.5,143.98 458.0,144.55 458.5,144.93 459.0,145.18 459.5,145.32" fill="none" stroke="#6676b2" stroke-width="1.15" stroke-linejoin="round"/>
<polyline points="467.0,145.33 467.5,145.19 468.0,144.94 468.5,144.54 469.0,143.92 469.5,143.01 470.0,141.74 470.5,140.06 471.0,137.97 471.5,135.52 472.0,132.82 472.5,130.08 473.0,127.52 473.5,125.42 474.0,124.00 474.5,123.38 475.0,123.59 475.5,124.52 476.0,125.92 476.5,127.50 477.0,128.91 477.5,129.86 478.0,130.13 478.5,129.67 479.0,128.55 479.5,126.97 480.0,125.25 480.5,123.73 481.0,122.73 481.5,122.49 482.0,123.12 482.5,124.60 483.0,126.79 483.5,129.44 484.0,132.30 484.5,135.10 485.0,137.66 485.5,139.84 486.0,141.58 486.5,142.91 487.0,143.85 487.5,144.49 488.0,144.89 488.5,145.11 489.0,145.19 489.5,145.14 490.0,144.96 490.5,144.61 491.0,144.03 491.5,143.15 492.0,141.90 492.5,140.20 493.0,138.03 493.5,135.42 494.0,132.47 494.5,129.36 495.0,126.35 495.5,123.71 496.0,121.70 496.5,120.51 497.0,120.19 497.5,120.68 498.0,121.75 498.5,123.09 499.0,124.36 499.5,125.26 500.0,125.59 500.5,125.31 501.0,124.54 501.5,123.51 502.0,122.55 502.5,121.97 503.0,122.02 503.5,122.84 504.0,124.45 504.5,126.70 505.0,129.40 505.5,132.28 506.0,135.09 506.5,137.66 507.0,139.84 507.5,141.59 508.0,142.91 508.5,143.86" fill="none" stroke="#6676b2" stroke-width="1.15" stroke-linejoin="round"/>
<line x1="423.5" y1="145.5" x2="508.5" y2="145.5" stroke="#c8c8d0" stroke-width="0.6"/>
<polyline points="426.0,145.27 426.5,145.05 427.0,144.68 427.5,144.07 428.0,143.10 428.5,141.66 429.0,139.59 429.5,136.81 430.0,133.25 430.5,128.97 431.0,124.15 431.5,119.09 432.0,114.22 432.5,110.02 433.0,106.96 433.5,105.41 434.0,105.55 434.5,107.35 435.0,110.56 435.5,114.74 436.0,119.37 436.5,123.92 437.0,127.92 437.5,131.01 438.0,132.99 438.5,133.81 439.0,133.56 439.5,132.44 440.0,130.75 440.5,128.82 441.0,127.02 441.5,125.65 442.0,124.97 442.5,125.11 443.0,126.09 443.5,127.79 444.0,130.02 444.5,132.55 445.0,135.12 445.5,137.53 446.0,139.65 446.5,141.38 447.0,142.73 447.5,143.71 448.0,144.39 448.5,144.85 449.0,145.13 449.5,145.30" fill="none" stroke="#2e2e2e" stroke-width="1.15" stroke-linejoin="round"/>
<polyline points="458.5,145.25 459.0,145.03 459.5,144.65 460.0,144.04 460.5,143.10 461.0,141.71 461.5,139.78 462.0,137.22 462.5,134.04 463.0,130.30 463.5,126.20 464.0,122.04 464.5,118.19 465.0,115.06 465.5,113.01 466.0,112.30 466.5,113.01 467.0,115.06 467.5,118.19 468.0,122.04 468.5,126.20 469.0,130.30 469.5,134.04 470.0,137.22 470.5,139.78 471.0,141.71 471.5,143.10 472.0,144.04 472.5,144.65 473.0,145.03 473.5,145.25" fill="none" stroke="#2e2e2e" stroke-width="1.15" stroke-linejoin="round"/>
<line x1="423.5" y1="145.5" x2="508.5" y2="145.5" stroke="#c8c8d0" stroke-width="0.6"/>
<polyline points="423.5,198.50 424.0,197.46 424.5,196.06 425.0,194.30 425.5,192.21 426.0,189.88 426.5,187.47 427.0,185.21 427.5,183.30 428.0,181.99 428.5,181.42 429.0,181.66 429.5,182.70 430.0,184.39 430.5,186.54 431.0,188.92 431.5,191.30 432.0,193.50 432.5,195.40 433.0,196.94 433.5,198.12 434.0,198.98 434.5,199.57 435.0,199.95 435.5,200.19 436.0,200.34" fill="none" stroke="#e26f7c" stroke-width="1.15" stroke-linejoin="round"/>
<polyline points="453.5,200.28 454.0,200.09 454.5,199.77 455.0,199.27 455.5,198.50 456.0,197.40 456.5,195.90 457.0,193.96 457.5,191.60 458.0,188.90 458.5,186.03 459.0,183.21 459.5,180.72 460.0,178.84 460.5,177.78 461.0,177.68 461.5,178.55 462.0,180.29 462.5,182.68 463.0,185.46 463.5,188.34 464.0,191.08 464.5,193.52 465.0,195.54 465.5,197.11 466.0,198.26 466.5,199.03 467.0,199.48 467.5,199.67 468.0,199.61 468.5,199.31 469.0,198.75 469.5,197.90 470.0,196.74 470.5,195.27 471.0,193.51 471.5,191.55 472.0,189.52 472.5,187.61 473.0,186.01 473.5,184.90 474.0,184.41 474.5,184.62 475.0,185.49 475.5,186.92 476.0,188.73 476.5,190.73 477.0,192.74 477.5,194.60 478.0,196.20 478.5,197.50 479.0,198.50 479.5,199.22 480.0,199.71 480.5,200.03 481.0,200.22 481.5,200.32 482.0,200.34 482.5,200.30 483.0,200.17 483.5,199.94 484.0,199.54 484.5,198.92 485.0,198.01 485.5,196.74 486.0,195.06 486.5,192.97 487.0,190.52 487.5,187.83 488.0,185.10 488.5,182.57 489.0,180.51 489.5,179.17 490.0,178.70 490.5,179.17 491.0,180.51 491.5,182.57 492.0,185.10 492.5,187.83 493.0,190.52 493.5,192.97 494.0,195.06 494.5,196.74 495.0,198.01 495.5,198.92 496.0,199.54 496.5,199.94 497.0,200.19 497.5,200.33" fill="none" stroke="#e26f7c" stroke-width="1.15" stroke-linejoin="round"/>
<line x1="423.5" y1="200.5" x2="508.5" y2="200.5" stroke="#c8c8d0" stroke-width="0.6"/>
<polyline points="444.5,200.28 445.0,200.11 445.5,199.84 446.0,199.43 446.5,198.84 447.0,198.03 447.5,196.99 448.0,195.72 448.5,194.27 449.0,192.73 449.5,191.22 450.0,189.88 450.5,188.86 451.0,188.30 451.5,188.24 452.0,188.71 452.5,189.65 453.0,190.93 453.5,192.42 454.0,193.97 454.5,195.44 455.0,196.75 455.5,197.84 456.0,198.69 456.5,199.32 457.0,199.76 457.5,200.05 458.0,200.23 458.5,200.32 459.0,200.33 459.5,200.28 460.0,200.15 460.5,199.91 461.0,199.51 461.5,198.92 462.0,198.07 462.5,196.93 463.0,195.47 463.5,193.72 464.0,191.74 464.5,189.66 465.0,187.66 465.5,185.94 466.0,184.69 466.5,184.06 467.0,184.13 467.5,184.89 468.0,186.25 468.5,188.05 469.0,190.08 469.5,192.15 470.0,194.09 470.5,195.79 471.0,197.18 471.5,198.26 472.0,199.04 472.5,199.56 473.0,199.87 473.5,200.00 474.0,199.97 474.5,199.76 475.0,199.34 475.5,198.66 476.0,197.64 476.5,196.23 477.0,194.38 477.5,192.10 478.0,189.46 478.5,186.61 479.0,183.76 479.5,181.18 480.0,179.15 480.5,177.92 481.0,177.62 481.5,178.30 482.0,179.88 482.5,182.16 483.0,184.88 483.5,187.77 484.0,190.56 484.5,193.07 485.0,195.18 485.5,196.85 486.0,198.10 486.5,198.99 487.0,199.59 487.5,199.96 488.0,200.18 488.5,200.27 489.0,200.28 489.5,200.18 490.0,199.97 490.5,199.60 491.0,199.01 491.5,198.11 492.0,196.82 492.5,195.09 493.0,192.88 493.5,190.21 494.0,187.20 494.5,184.04 495.0,180.97 495.5,178.28 496.0,176.25 496.5,175.06 497.0,174.78 497.5,175.35 498.0,176.54 498.5,178.04 499.0,179.52 499.5,180.66 500.0,181.26 500.5,181.27 501.0,180.78 501.5,180.01 502.0,179.25 502.5,178.80 503.0,178.90 503.5,179.69 504.0,181.18 504.5,183.26 505.0,185.74 505.5,188.38 506.0,190.96 506.5,193.31 507.0,195.31 507.5,196.91 508.0,198.13 508.5,198.99" fill="none" stroke="#6676b2" stroke-width="1.15" stroke-linejoin="round"/>
<line x1="423.5" y1="200.5" x2="508.5" y2="200.5" stroke="#c8c8d0" stroke-width="0.6"/>
<polyline points="425.0,200.31 425.5,200.13 426.0,199.82 426.5,199.30 427.0,198.47 427.5,197.21 428.0,195.40 428.5,192.93 429.0,189.74 429.5,185.85 430.0,181.41 430.5,176.68 431.0,172.04 431.5,167.94 432.0,164.84 432.5,163.09 433.0,162.92 433.5,164.34 434.0,167.17 434.5,171.05 435.0,175.52 435.5,180.09 436.0,184.32 436.5,187.87 437.0,190.52 437.5,192.15 438.0,192.76 438.5,192.43 439.0,191.31 439.5,189.59 440.0,187.53 440.5,185.42 441.0,183.53 441.5,182.14 442.0,181.44 442.5,181.54 443.0,182.43 443.5,184.00 444.0,186.08 444.5,188.43 445.0,190.83 445.5,193.08 446.0,195.05 446.5,196.66 447.0,197.92 447.5,198.83 448.0,199.47 448.5,199.89 449.0,200.15 449.5,200.31" fill="none" stroke="#2e2e2e" stroke-width="1.15" stroke-linejoin="round"/>
<polyline points="459.0,200.33 459.5,200.21 460.0,200.02 460.5,199.75 461.0,199.38 461.5,198.90 462.0,198.30 462.5,197.61 463.0,196.86 463.5,196.11 464.0,195.44 464.5,194.91 465.0,194.58 465.5,194.51 466.0,194.68 466.5,195.10 467.0,195.70 467.5,196.41 468.0,197.16 468.5,197.89 469.0,198.55 469.5,199.11 470.0,199.54 470.5,199.87 471.0,200.11 471.5,200.26" fill="none" stroke="#2e2e2e" stroke-width="1.15" stroke-linejoin="round"/>
<line x1="423.5" y1="200.5" x2="508.5" y2="200.5" stroke="#c8c8d0" stroke-width="0.6"/>
<polyline points="423.5,255.88 424.0,254.66 424.5,253.04 425.0,250.99 425.5,248.56 426.0,245.85 426.5,243.06 427.0,240.42 427.5,238.21 428.0,236.68 428.5,236.02 429.0,236.31 429.5,237.51 430.0,239.47 430.5,241.97 431.0,244.74 431.5,247.50 432.0,250.06 432.5,252.27 433.0,254.06 433.5,255.44 434.0,256.43 434.5,257.12 435.0,257.57 435.5,257.84 436.0,258.01" fill="none" stroke="#e26f7c" stroke-width="1.15" stroke-linejoin="round"/>
<polyline points="453.0,258.05 453.5,257.91 454.0,257.67 454.5,257.26 455.0,256.60 455.5,255.62 456.0,254.19 456.5,252.25 457.0,249.75 457.5,246.70 458.0,243.21 458.5,239.50 459.0,235.86 459.5,232.64 460.0,230.20 460.5,228.83 461.0,228.70 461.5,229.83 462.0,232.08 462.5,235.17 463.0,238.75 463.5,242.48 464.0,246.03 464.5,249.17 465.0,251.78 465.5,253.81 466.0,255.28 466.5,256.27 467.0,256.83 467.5,257.03 468.0,256.90 468.5,256.42 469.0,255.58 469.5,254.33 470.0,252.65 470.5,250.53 471.0,248.03 471.5,245.29 472.0,242.51 472.5,239.94 473.0,237.85 473.5,236.48 474.0,236.00 474.5,236.48 475.0,237.85 475.5,239.94 476.0,242.51 476.5,245.30 477.0,248.04 477.5,250.53 478.0,252.66 478.5,254.37 479.0,255.66 479.5,256.59 480.0,257.22 480.5,257.62 481.0,257.86 481.5,257.98 482.0,258.01 482.5,257.94 483.0,257.78 483.5,257.47 484.0,256.96 484.5,256.16 485.0,254.98 485.5,253.34 486.0,251.17 486.5,248.46 487.0,245.29 487.5,241.81 488.0,238.27 488.5,235.00 489.0,232.34 489.5,230.61 490.0,230.00 490.5,230.61 491.0,232.34 491.5,235.00 492.0,238.27 492.5,241.81 493.0,245.29 493.5,248.46 494.0,251.17 494.5,253.34 495.0,254.98 495.5,256.16 496.0,256.96 496.5,257.48 497.0,257.80 497.5,257.99" fill="none" stroke="#e26f7c" stroke-width="1.15" stroke-linejoin="round"/>
<line x1="423.5" y1="258.2" x2="508.5" y2="258.2" stroke="#c8c8d0" stroke-width="0.6"/>
<polyline points="444.0,258.04 444.5,257.91 445.0,257.69 445.5,257.34 446.0,256.81 446.5,256.05 447.0,255.01 447.5,253.66 448.0,252.02 448.5,250.15 449.0,248.15 449.5,246.20 450.0,244.47 450.5,243.16 451.0,242.42 451.5,242.36 452.0,242.96 452.5,244.17 453.0,245.83 453.5,247.75 454.0,249.76 454.5,251.66 455.0,253.35 455.5,254.76 456.0,255.86 456.5,256.68 457.0,257.25 457.5,257.62 458.0,257.85 458.5,257.96 459.0,257.99 459.5,257.93 460.0,257.76 460.5,257.46 461.0,256.97 461.5,256.24 462.0,255.19 462.5,253.77 463.0,251.95 463.5,249.77 464.0,247.31 464.5,244.73 465.0,242.25 465.5,240.11 466.0,238.55 466.5,237.77 467.0,237.86 467.5,238.81 468.0,240.50 468.5,242.73 469.0,245.25 469.5,247.82 470.0,250.23 470.5,252.35 471.0,254.08 471.5,255.42 472.0,256.39 472.5,257.05 473.0,257.45 473.5,257.64 474.0,257.65 474.5,257.47 475.0,257.08 475.5,256.41 476.0,255.40 476.5,253.99 477.0,252.11 477.5,249.77 478.0,247.03 478.5,244.02 479.0,240.96 479.5,238.13 480.0,235.83 480.5,234.32 481.0,233.80 481.5,234.32 482.0,235.83 482.5,238.13 483.0,240.96 483.5,244.02 484.0,247.03 484.5,249.77 485.0,252.12 485.5,253.99 486.0,255.41 486.5,256.43 487.0,257.12 487.5,257.56 488.0,257.82 488.5,257.94 489.0,257.96 489.5,257.87 490.0,257.66 490.5,257.29 491.0,256.68 491.5,255.77 492.0,254.47 492.5,252.70 493.0,250.46 493.5,247.75 494.0,244.69 494.5,241.47 495.0,238.35 495.5,235.61 496.0,233.53 496.5,232.30 497.0,231.98 497.5,232.49 498.0,233.62 498.5,235.03 499.0,236.37 499.5,237.33 500.0,237.71 500.5,237.46 501.0,236.70 501.5,235.68 502.0,234.71 502.5,234.13 503.0,234.19 503.5,235.04 504.0,236.68 504.5,238.99 505.0,241.74 505.5,244.68 506.0,247.56 506.5,250.18 507.0,252.41 507.5,254.20 508.0,255.55 508.5,256.52" fill="none" stroke="#6676b2" stroke-width="1.15" stroke-linejoin="round"/>
<line x1="423.5" y1="258.2" x2="508.5" y2="258.2" stroke="#c8c8d0" stroke-width="0.6"/>
<polyline points="426.5,257.99 427.0,257.80 427.5,257.46 428.0,256.90 428.5,255.99 429.0,254.63 429.5,252.66 430.0,249.98 430.5,246.52 431.0,242.31 431.5,237.49 432.0,232.36 432.5,227.32 433.0,222.87 433.5,219.48 434.0,217.55 434.5,217.31 435.0,218.76 435.5,221.66 436.0,225.59 436.5,230.01 437.0,234.36 437.5,238.12 438.0,240.94 438.5,242.59 439.0,243.06 439.5,242.50 440.0,241.18 440.5,239.47 441.0,237.78 441.5,236.47 442.0,235.84 442.5,236.05 443.0,237.14 443.5,239.00 444.0,241.43 444.5,244.17 445.0,246.96 445.5,249.57 446.0,251.86 446.5,253.74 447.0,255.20 447.5,256.26 448.0,257.00 448.5,257.49 449.0,257.80 449.5,257.98" fill="none" stroke="#2e2e2e" stroke-width="1.15" stroke-linejoin="round"/>
<polyline points="459.0,258.05 459.5,257.94 460.0,257.78 460.5,257.54 461.0,257.21 461.5,256.78 462.0,256.26 462.5,255.65 463.0,254.99 463.5,254.33 464.0,253.73 464.5,253.26 465.0,252.97 465.5,252.90 466.0,253.06 466.5,253.43 467.0,253.96 467.5,254.59 468.0,255.25 468.5,255.90 469.0,256.48 469.5,256.97 470.0,257.36 470.5,257.65 471.0,257.85 471.5,257.99" fill="none" stroke="#2e2e2e" stroke-width="1.15" stroke-linejoin="round"/>
<line x1="423.5" y1="258.2" x2="508.5" y2="258.2" stroke="#c8c8d0" stroke-width="0.6"/>
<text x="421.00" y="128.50" font-size="10.8" text-anchor="middle" fill="#1a1a1a" stroke="#1a1a1a" stroke-width="0.22" transform="rotate(-90 421.00 128.50)">p_Ib3</text>
<text x="421.00" y="182.50" font-size="10.8" text-anchor="middle" fill="#1a1a1a" stroke="#1a1a1a" stroke-width="0.22" transform="rotate(-90 421.00 182.50)">r_IbBM</text>
<text x="421.00" y="236.50" font-size="10.8" text-anchor="middle" fill="#1a1a1a" stroke="#1a1a1a" stroke-width="0.22" transform="rotate(-90 421.00 236.50)">r_IbSP</text>
</svg></body></html>
